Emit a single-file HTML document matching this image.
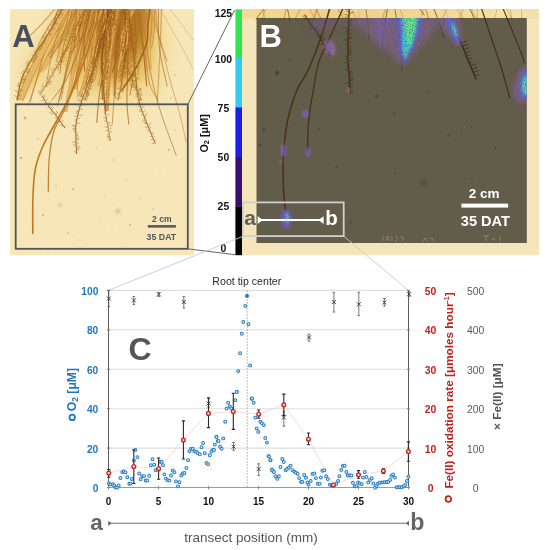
<!DOCTYPE html>
<html><head><meta charset="utf-8"><title>Figure</title>
<style>
html,body{margin:0;padding:0;background:#fff;}
body{width:548px;height:550px;overflow:hidden;}
svg{display:block;font-family:"Liberation Sans",Arial,Helvetica,sans-serif;}
</style></head><body>
<svg width="548" height="550" viewBox="0 0 548 550">
<defs>
<filter id="blur1" x="-50%" y="-50%" width="200%" height="200%"><feGaussianBlur stdDeviation="1"/></filter>
<filter id="blur2" x="-50%" y="-50%" width="200%" height="200%"><feGaussianBlur stdDeviation="2"/></filter>
<filter id="blur3" x="-50%" y="-50%" width="200%" height="200%"><feGaussianBlur stdDeviation="3"/></filter>
<filter id="blur4" x="-50%" y="-50%" width="200%" height="200%"><feGaussianBlur stdDeviation="4"/></filter>
<filter id="blur5" x="-50%" y="-50%" width="200%" height="200%"><feGaussianBlur stdDeviation="5"/></filter>
<filter id="blur6" x="-50%" y="-50%" width="200%" height="200%"><feGaussianBlur stdDeviation="6"/></filter>
<filter id="blur8" x="-50%" y="-50%" width="200%" height="200%"><feGaussianBlur stdDeviation="8"/></filter>
<filter id="speckle" x="0" y="0" width="100%" height="100%"><feTurbulence type="fractalNoise" baseFrequency="0.75" numOctaves="1" seed="4" result="n"/><feColorMatrix in="n" type="matrix" values="0 0 0 0 0  0 0 0 0 0  0 0 0 0 0  0 0 0 3 -0.6" result="a"/><feComposite in="SourceGraphic" in2="a" operator="in"/></filter>
<linearGradient id="stripG" x1="0" x2="1" y1="0" y2="0"><stop offset="0" stop-color="#f3da98"/><stop offset="0.25" stop-color="#f0d088"/><stop offset="0.55" stop-color="#f1d48e"/><stop offset="1" stop-color="#f5e2aa"/></linearGradient>
<clipPath id="clipA"><rect x="10" y="9" width="184" height="246.4"/></clipPath>
<clipPath id="clipOv"><rect x="256.5" y="18" width="270.3" height="225"/></clipPath>
<clipPath id="clipB"><rect x="242" y="9" width="297" height="246"/></clipPath>
</defs>
<rect width="548" height="550" fill="#fff"/>
<g clip-path="url(#clipA)">
<rect x="10" y="9" width="184" height="246.4" fill="#f7e6b7"/>
<path d="M56,5 L162,5 L170,40 L166,80 L156,100 L120,106 L80,104 L50,96 L28,85 L18,70 L30,50 L45,25 Z" fill="#f0d890" opacity="0.75" filter="url(#blur6)"/>
<path d="M62,5 L156,5 L156,40 L150,72 L135,88 L100,90 L75,80 L58,60 L52,35 Z" fill="#e2b858" opacity="0.7" filter="url(#blur5)"/>
<path d="M64,5 L152,5 L150,30 L140,52 L110,60 L80,55 L66,35 Z" fill="#d39c40" opacity="0.7" filter="url(#blur4)"/>
<path d="M86,5 L150,5 L148,35 L140,60 L128,80 L104,78 L92,55 L86,30 Z" fill="#c08a2e" opacity="0.7" filter="url(#blur4)"/>
<path d="M96,5 L146,5 L144,30 L136,50 L120,62 L104,55 L96,30 Z" fill="#a86c1c" opacity="0.7" filter="url(#blur3)"/>
<path d="M22,78 L36,52 L52,28 L60,12 L68,14 L62,34 L48,60 L34,84 L24,100 L18,96 Z" fill="#e3bc5a" opacity="0.65" filter="url(#blur2)"/>
<circle cx="25" cy="118" r="1.4" fill="#8c8a7a" opacity="0.55"/>
<circle cx="38" cy="139" r="0.8" fill="#8c8a7a" opacity="0.55"/>
<circle cx="21" cy="158" r="1.2" fill="#8c8a7a" opacity="0.55"/>
<circle cx="56" cy="186" r="0.7" fill="#8c8a7a" opacity="0.55"/>
<circle cx="68" cy="233" r="0.8" fill="#8c8a7a" opacity="0.55"/>
<circle cx="43" cy="215" r="1.0" fill="#8c8a7a" opacity="0.55"/>
<circle cx="113" cy="160" r="0.7" fill="#8c8a7a" opacity="0.55"/>
<circle cx="126" cy="180" r="0.6" fill="#8c8a7a" opacity="0.55"/>
<circle cx="153" cy="209" r="0.7" fill="#8c8a7a" opacity="0.55"/>
<circle cx="80" cy="240" r="0.6" fill="#8c8a7a" opacity="0.55"/>
<circle cx="130" cy="225" r="0.9" fill="#8c8a7a" opacity="0.55"/>
<circle cx="140" cy="198" r="0.6" fill="#8c8a7a" opacity="0.55"/>
<circle cx="100" cy="222" r="0.5" fill="#8c8a7a" opacity="0.55"/>
<circle cx="123" cy="248" r="0.5" fill="#8c8a7a" opacity="0.55"/>
<circle cx="169" cy="150" r="1.0" fill="#8c8a7a" opacity="0.55"/>
<circle cx="175" cy="130" r="0.6" fill="#8c8a7a" opacity="0.55"/>
<circle cx="171" cy="98" r="0.8" fill="#8c8a7a" opacity="0.55"/>
<circle cx="186" cy="110" r="0.6" fill="#8c8a7a" opacity="0.55"/>
<circle cx="175" cy="75" r="0.7" fill="#8c8a7a" opacity="0.55"/>
<circle cx="48" cy="250" r="0.6" fill="#8c8a7a" opacity="0.55"/>
<circle cx="73" cy="189" r="0.9" fill="#8c8a7a" opacity="0.55"/>
<circle cx="97" cy="147" r="0.6" fill="#8c8a7a" opacity="0.55"/>
<circle cx="105" cy="195" r="0.5" fill="#8c8a7a" opacity="0.55"/>
<circle cx="160" cy="175" r="0.6" fill="#8c8a7a" opacity="0.55"/>
<circle cx="112" cy="230" r="0.6" fill="#8c8a7a" opacity="0.55"/>
<circle cx="118" cy="211" r="2.6" fill="#b9b29a" opacity="0.6" filter="url(#blur1)"/>
<circle cx="60" cy="205" r="2.2" fill="#c2b898" opacity="0.6" filter="url(#blur1)"/>
<path d="M78.2,9.0 C76.6,17.1 72.3,41.5 68.8,57.8 C65.4,74.0 59.3,98.4 57.4,106.5" stroke="#aa601c" stroke-width="0.85" opacity="0.54" fill="none" stroke-linecap="round"/>
<path d="M77.6,12.1L76.1,11.7M76.4,18.2L74.7,17.4M75.2,24.3L74.2,24.0M74.1,30.4L75.8,30.1M72.9,36.6L75.0,36.3M71.7,42.7L69.4,41.9M70.5,48.8L69.4,48.0M69.4,54.9L70.8,54.8M68.1,61.0L66.3,60.4M66.6,67.1L64.8,66.0M65.2,73.2L63.7,72.2M63.8,79.2L65.2,79.5M62.4,85.3L60.4,84.7M60.9,91.4L62.7,91.3M59.5,97.4L60.7,97.5M58.1,103.5L56.0,102.3" stroke="#aa601c" stroke-width="0.5" opacity="0.3782137061384853" fill="none"/>
<path d="M119.8,9.0 C120.0,14.3 122.0,30.1 120.8,40.6 C119.6,51.1 113.8,66.9 112.4,72.2" stroke="#aa601c" stroke-width="1.21" opacity="0.89" fill="none" stroke-linecap="round"/>
<path d="M98.6,9.0 C95.9,11.7 86.6,19.7 82.5,25.0 C78.3,30.4 75.2,38.4 73.7,41.1" stroke="#b0661e" stroke-width="0.89" opacity="0.81" fill="none" stroke-linecap="round"/>
<path d="M99.9,9.0 C97.5,12.8 88.2,24.0 85.4,31.5 C82.5,39.0 83.2,50.3 82.7,54.1" stroke="#b86e22" stroke-width="0.77" opacity="0.61" fill="none" stroke-linecap="round"/>
<path d="M131.9,9.0 C130.2,13.5 123.3,26.9 121.6,35.8 C119.9,44.8 121.6,58.2 121.6,62.7" stroke="#c98a3a" stroke-width="3.6" opacity="0.43" fill="none"/>
<path d="M131.9,9.0 C130.2,13.5 123.3,26.9 121.6,35.8 C119.9,44.8 121.6,58.2 121.6,62.7" stroke="#e6bc62" stroke-width="2.0" opacity="0.85" fill="none"/>
<path d="M131.3,10.6L129.9,9.1M130.0,13.9L131.8,14.3M128.8,17.1L130.9,17.2M127.5,20.4L129.2,20.5M126.3,23.6L125.2,22.7M125.0,26.8L124.1,25.9M123.8,30.1L122.9,29.2M122.5,33.3L124.9,33.5M121.6,36.6L123.2,36.0M121.6,40.1L120.2,39.8M121.6,43.6L119.7,43.2M121.6,47.1L123.2,46.8M121.6,50.5L123.4,49.7M121.6,54.0L123.9,53.8M121.6,57.5L119.9,57.0M121.6,61.0L120.4,60.9" stroke="#c98a3a" stroke-width="0.5" opacity="0.3801848694461838" fill="none"/>
<path d="M75.6,9.0 C73.7,11.7 69.8,19.7 64.3,25.1 C58.8,30.5 46.3,38.5 42.7,41.2" stroke="#c98a3a" stroke-width="0.74" opacity="0.74" fill="none" stroke-linecap="round"/>
<path d="M74.8,10.2L73.6,9.2M73.1,12.6L72.4,11.4M71.4,15.0L70.0,13.6M69.7,17.3L68.9,15.8M68.1,19.7L66.7,18.7M66.4,22.1L65.2,21.1M64.7,24.5L65.9,24.7M62.6,26.4L62.2,24.4M60.2,28.1L62.2,29.6M57.9,29.9L58.8,30.8M55.6,31.6L55.3,30.0M53.2,33.4L54.8,35.0M50.9,35.1L52.3,35.8M48.6,36.9L48.2,35.7M46.2,38.6L45.8,36.0M43.9,40.3L42.7,38.2" stroke="#c98a3a" stroke-width="0.5" opacity="0.5195005035288017" fill="none"/>
<path d="M79.0,9.0 C78.4,13.2 78.4,25.8 75.4,34.2 C72.3,42.6 63.1,55.2 60.7,59.4" stroke="#b0661e" stroke-width="1.31" opacity="0.40" fill="none" stroke-linecap="round"/>
<path d="M78.7,10.7L77.5,9.9M78.3,14.1L76.1,12.8M77.8,17.5L79.0,17.5M77.3,20.8L75.3,19.7M76.8,24.2L78.4,24.0M76.3,27.6L78.1,27.2M75.9,31.0L74.7,30.3M75.3,34.3L76.5,34.8M73.6,37.3L75.3,37.4M71.9,40.2L74.0,41.4M70.1,43.2L71.9,43.5M68.4,46.1L67.4,45.1M66.7,49.1L65.8,47.8M65.0,52.0L64.0,50.6M63.3,55.0L64.9,55.5M61.5,57.9L60.1,56.9" stroke="#b0661e" stroke-width="0.5" opacity="0.2826870112790809" fill="none"/>
<path d="M77.2,9.0 C75.1,14.4 67.7,30.5 64.8,41.2 C61.9,52.0 60.7,68.1 59.9,73.5" stroke="#b86e22" stroke-width="1.11" opacity="0.66" fill="none" stroke-linecap="round"/>
<path d="M55.0,9.0 C52.7,11.6 46.3,19.3 41.3,24.5 C36.4,29.7 28.1,37.4 25.5,40.0" stroke="#b0661e" stroke-width="1.50" opacity="0.43" fill="none" stroke-linecap="round"/>
<path d="M158.4,9.0 C158.6,15.4 157.9,34.7 159.4,47.6 C160.9,60.5 165.9,79.8 167.2,86.2" stroke="#8f4c14" stroke-width="0.91" opacity="0.59" fill="none" stroke-linecap="round"/>
<path d="M125.9,9.0 C125.2,15.4 123.5,34.6 121.6,47.4 C119.6,60.2 115.5,79.4 114.3,85.8" stroke="#aa601c" stroke-width="0.80" opacity="0.69" fill="none" stroke-linecap="round"/>
<path d="M118.0,9.0 C118.7,12.7 122.2,23.7 122.4,31.1 C122.6,38.4 119.7,49.5 119.2,53.2" stroke="#c07a2a" stroke-width="0.90" opacity="0.56" fill="none" stroke-linecap="round"/>
<path d="M100.1,9.0 C97.4,14.5 88.0,30.9 84.3,41.9 C80.6,52.8 78.9,69.3 77.9,74.7" stroke="#a0581a" stroke-width="1.11" opacity="0.60" fill="none" stroke-linecap="round"/>
<path d="M99.1,11.0L100.2,11.2M97.2,14.9L99.4,15.4M95.3,18.9L97.2,19.3M93.4,22.8L92.3,21.8M91.5,26.7L93.5,27.1M89.6,30.7L91.5,31.2M87.8,34.6L89.3,35.3M85.9,38.6L88.1,38.8M84.1,42.6L86.1,42.1M83.3,46.8L82.1,46.5M82.5,51.1L83.6,51.3M81.6,55.4L83.0,55.1M80.8,59.7L83.1,60.1M80.0,64.0L78.5,63.0M79.1,68.3L77.9,67.8M78.3,72.6L77.0,72.3" stroke="#a0581a" stroke-width="0.5" opacity="0.4167540139492752" fill="none"/>
<path d="M86.2,9.0 C83.5,16.5 74.0,39.1 69.9,54.2 C65.8,69.2 62.8,91.8 61.4,99.3" stroke="#b0661e" stroke-width="1.28" opacity="0.40" fill="none" stroke-linecap="round"/>
<path d="M102.4,9.0 C100.8,12.9 94.4,24.4 93.0,32.1 C91.5,39.9 93.7,51.4 93.9,55.3" stroke="#c07a2a" stroke-width="3.6" opacity="0.42" fill="none"/>
<path d="M102.4,9.0 C100.8,12.9 94.4,24.4 93.0,32.1 C91.5,39.9 93.7,51.4 93.9,55.3" stroke="#e6bc62" stroke-width="2.0" opacity="0.85" fill="none"/>
<path d="M103.2,9.0 C102.8,15.0 103.1,33.1 100.7,45.1 C98.3,57.1 90.8,75.2 88.8,81.2" stroke="#b86e22" stroke-width="1.48" opacity="0.79" fill="none" stroke-linecap="round"/>
<path d="M60.2,9.0 C56.9,14.4 45.0,30.7 40.2,41.6 C35.4,52.5 32.9,68.8 31.4,74.2" stroke="#b0661e" stroke-width="1.18" opacity="0.54" fill="none" stroke-linecap="round"/>
<path d="M59.0,10.9L57.6,9.7M56.7,14.8L58.3,15.7M54.3,18.6L56.6,19.0M52.0,22.4L53.2,22.6M49.6,26.3L51.4,26.6M47.3,30.1L48.5,30.6M44.9,33.9L44.0,33.1M42.6,37.8L43.6,38.3M40.2,41.6L41.4,41.8M39.0,45.9L37.6,44.7M37.9,50.3L36.5,49.7M36.7,54.6L35.6,54.2M35.5,59.0L34.1,58.4M34.4,63.3L32.7,62.9M33.2,67.7L31.9,66.9M32.0,72.0L30.8,71.6" stroke="#b0661e" stroke-width="0.5" opacity="0.3800260023685973" fill="none"/>
<path d="M78.4,9.0 C77.8,17.6 76.9,43.3 74.8,60.5 C72.6,77.6 66.9,103.4 65.4,112.0" stroke="#b86e22" stroke-width="3.6" opacity="0.52" fill="none"/>
<path d="M78.4,9.0 C77.8,17.6 76.9,43.3 74.8,60.5 C72.6,77.6 66.9,103.4 65.4,112.0" stroke="#e6bc62" stroke-width="2.0" opacity="0.85" fill="none"/>
<path d="M104.0,9.0 C104.7,14.4 108.6,30.7 108.3,41.5 C107.9,52.4 102.9,68.7 101.8,74.1" stroke="#c98a3a" stroke-width="0.72" opacity="0.73" fill="none" stroke-linecap="round"/>
<path d="M119.2,9.0 C118.1,15.1 115.5,33.3 112.8,45.5 C110.1,57.6 104.6,75.9 103.0,82.0" stroke="#c98a3a" stroke-width="1.49" opacity="0.79" fill="none" stroke-linecap="round"/>
<path d="M85.5,9.0 C84.0,16.6 77.4,39.5 76.2,54.7 C75.0,69.9 77.9,92.7 78.2,100.4" stroke="#c98a3a" stroke-width="1.18" opacity="0.36" fill="none" stroke-linecap="round"/>
<path d="M84.9,11.8L83.0,10.5M83.8,17.5L85.4,17.8M82.6,23.1L84.2,23.2M81.5,28.8L79.9,28.4M80.3,34.4L81.6,34.2M79.2,40.1L80.4,40.1M78.0,45.8L76.6,45.1M76.9,51.4L75.8,50.5M76.3,57.1L78.7,57.0M76.6,62.9L75.0,62.7M76.8,68.6L78.6,68.1M77.1,74.4L76.0,74.2M77.3,80.2L76.2,80.1M77.6,85.9L79.5,85.5M77.8,91.7L79.9,90.9M78.1,97.5L75.5,96.8" stroke="#c98a3a" stroke-width="0.5" opacity="0.25124138582097033" fill="none"/>
<path d="M96.4,9.0 C95.8,16.3 95.6,38.1 92.9,52.6 C90.1,67.1 82.0,88.9 79.9,96.2" stroke="#c07a2a" stroke-width="3.6" opacity="0.62" fill="none"/>
<path d="M96.4,9.0 C95.8,16.3 95.6,38.1 92.9,52.6 C90.1,67.1 82.0,88.9 79.9,96.2" stroke="#e6bc62" stroke-width="2.0" opacity="0.85" fill="none"/>
<path d="M96.1,11.8L97.3,11.7M95.7,17.3L97.9,17.0M95.2,22.9L97.0,22.9M94.8,28.4L96.7,28.3M94.4,34.0L93.0,33.6M93.9,39.6L95.2,39.4M93.5,45.1L95.5,44.3M93.0,50.7L95.3,50.3M91.8,56.1L90.0,55.3M90.2,61.4L89.1,61.0M88.6,66.8L90.9,66.8M87.0,72.1L88.8,72.3M85.4,77.5L83.6,76.6M83.9,82.8L81.9,82.2M82.3,88.1L81.3,87.4M80.7,93.5L78.8,92.4" stroke="#c07a2a" stroke-width="0.5" opacity="0.5398783541567046" fill="none"/>
<path d="M141.7,9.0 C142.4,14.2 145.1,29.9 145.7,40.4 C146.4,50.9 145.8,66.6 145.8,71.8" stroke="#c98a3a" stroke-width="0.86" opacity="0.82" fill="none" stroke-linecap="round"/>
<path d="M141.9,11.0L140.2,11.0M142.4,14.9L144.8,13.9M142.9,18.8L145.1,17.7M143.5,22.7L144.8,22.2M144.0,26.6L145.1,25.9M144.5,30.5L146.7,29.9M145.0,34.4L146.2,33.6M145.5,38.3L144.4,38.3M145.7,42.3L144.5,41.7M145.8,46.2L146.8,45.7M145.8,50.1L148.2,49.3M145.8,54.1L144.2,53.6M145.8,58.0L144.2,58.0M145.8,62.0L147.0,61.9M145.8,65.9L144.4,65.8M145.8,69.8L147.4,69.7" stroke="#c98a3a" stroke-width="0.5" opacity="0.5750398444062229" fill="none"/>
<path d="M88.7,9.0 C87.7,12.9 83.7,24.5 83.0,32.2 C82.3,39.9 84.1,51.6 84.3,55.4" stroke="#a0581a" stroke-width="0.81" opacity="0.68" fill="none" stroke-linecap="round"/>
<path d="M129.9,9.0 C128.6,12.6 123.6,23.4 122.1,30.6 C120.7,37.8 121.4,48.6 121.2,52.2" stroke="#b86e22" stroke-width="1.03" opacity="0.71" fill="none" stroke-linecap="round"/>
<path d="M103.5,9.0 C102.8,16.6 101.8,39.5 98.9,54.8 C96.1,70.1 88.5,93.0 86.4,100.6" stroke="#aa601c" stroke-width="0.92" opacity="0.52" fill="none" stroke-linecap="round"/>
<path d="M93.3,9.0 C91.2,11.7 83.0,19.8 80.7,25.2 C78.4,30.6 79.7,38.7 79.5,41.4" stroke="#c07a2a" stroke-width="1.36" opacity="0.66" fill="none" stroke-linecap="round"/>
<path d="M152.9,9.0 C153.0,12.3 153.7,22.1 153.2,28.7 C152.8,35.2 150.7,45.0 150.2,48.3" stroke="#b0661e" stroke-width="3.6" opacity="0.50" fill="none"/>
<path d="M152.9,9.0 C153.0,12.3 153.7,22.1 153.2,28.7 C152.8,35.2 150.7,45.0 150.2,48.3" stroke="#e6bc62" stroke-width="2.0" opacity="0.85" fill="none"/>
<path d="M111.7,9.0 C109.8,14.4 103.3,30.7 100.5,41.5 C97.7,52.3 95.7,68.6 94.8,74.0" stroke="#b86e22" stroke-width="0.98" opacity="0.88" fill="none" stroke-linecap="round"/>
<path d="M113.4,9.0 C112.6,12.5 109.0,23.2 108.5,30.2 C107.9,37.3 109.9,47.9 110.2,51.5" stroke="#b86e22" stroke-width="1.03" opacity="0.66" fill="none" stroke-linecap="round"/>
<path d="M113.1,10.3L115.2,10.3M112.5,12.9L110.6,12.0M111.9,15.6L114.2,15.0M111.3,18.2L109.1,17.2M110.7,20.8L112.3,20.6M110.1,23.4L108.2,22.6M109.5,26.0L108.3,25.2M108.9,28.7L107.4,27.4M108.6,31.3L106.9,31.4M108.8,34.0L107.2,33.9M109.0,36.7L110.8,36.0M109.2,39.4L110.8,38.7M109.4,42.1L108.3,42.1M109.6,44.7L111.4,43.9M109.8,47.4L108.3,47.2M110.0,50.1L112.3,48.7" stroke="#b86e22" stroke-width="0.5" opacity="0.45863221374433316" fill="none"/>
<path d="M112.3,9.0 C112.2,14.9 113.2,32.5 111.7,44.3 C110.2,56.1 104.8,73.7 103.4,79.6" stroke="#a0581a" stroke-width="3.6" opacity="0.61" fill="none"/>
<path d="M112.3,9.0 C112.2,14.9 113.2,32.5 111.7,44.3 C110.2,56.1 104.8,73.7 103.4,79.6" stroke="#e6bc62" stroke-width="2.0" opacity="0.85" fill="none"/>
<path d="M108.0,9.0 C107.0,16.5 102.7,39.0 101.8,54.0 C100.8,68.9 102.3,91.4 102.4,98.9" stroke="#b0661e" stroke-width="1.42" opacity="0.89" fill="none" stroke-linecap="round"/>
<path d="M85.6,9.0 C83.2,16.7 75.9,39.9 71.4,55.3 C67.0,70.7 60.8,93.9 58.7,101.6" stroke="#8f4c14" stroke-width="1.14" opacity="0.46" fill="none" stroke-linecap="round"/>
<path d="M84.7,11.9L85.9,11.9M82.9,17.6L81.4,16.2M81.2,23.4L83.6,23.3M79.4,29.2L78.4,28.4M77.7,34.9L80.0,35.4M75.9,40.7L77.6,41.0M74.1,46.5L75.6,46.4M72.4,52.2L71.3,51.4M70.7,58.0L69.6,57.3M69.1,63.8L67.6,63.4M67.5,69.6L66.2,68.8M65.9,75.5L63.7,74.6M64.3,81.3L66.9,80.8M62.7,87.1L64.6,86.9M61.1,92.9L63.3,92.5M59.5,98.7L58.0,98.1" stroke="#8f4c14" stroke-width="0.5" opacity="0.32207190227870114" fill="none"/>
<path d="M161.6,9.0 C161.3,16.8 160.5,40.2 159.8,55.7 C159.0,71.3 157.6,94.7 157.2,102.5" stroke="#c07a2a" stroke-width="1.25" opacity="0.54" fill="none" stroke-linecap="round"/>
<path d="M71.1,9.0 C69.0,14.2 63.3,29.9 58.2,40.3 C53.2,50.8 43.7,66.5 40.8,71.7" stroke="#c98a3a" stroke-width="3.6" opacity="0.45" fill="none"/>
<path d="M71.1,9.0 C69.0,14.2 63.3,29.9 58.2,40.3 C53.2,50.8 43.7,66.5 40.8,71.7" stroke="#e6bc62" stroke-width="2.0" opacity="0.85" fill="none"/>
<path d="M105.5,9.0 C105.4,15.4 105.1,34.7 104.5,47.5 C104.0,60.3 102.5,79.6 102.1,86.0" stroke="#c98a3a" stroke-width="0.95" opacity="0.88" fill="none" stroke-linecap="round"/>
<path d="M105.2,9.0 C104.1,14.9 100.4,32.4 98.5,44.1 C96.6,55.8 94.7,73.4 94.0,79.2" stroke="#b0661e" stroke-width="3.6" opacity="0.59" fill="none"/>
<path d="M105.2,9.0 C104.1,14.9 100.4,32.4 98.5,44.1 C96.6,55.8 94.7,73.4 94.0,79.2" stroke="#e6bc62" stroke-width="2.0" opacity="0.85" fill="none"/>
<path d="M123.5,9.0 C123.8,14.7 124.7,31.7 125.0,43.1 C125.2,54.4 124.9,71.5 124.9,77.2" stroke="#b86e22" stroke-width="1.09" opacity="0.57" fill="none" stroke-linecap="round"/>
<path d="M151.0,9.0 C150.6,14.0 148.8,29.0 148.6,39.0 C148.5,49.1 149.8,64.1 150.1,69.1" stroke="#c98a3a" stroke-width="3.6" opacity="0.45" fill="none"/>
<path d="M151.0,9.0 C150.6,14.0 148.8,29.0 148.6,39.0 C148.5,49.1 149.8,64.1 150.1,69.1" stroke="#e6bc62" stroke-width="2.0" opacity="0.85" fill="none"/>
<path d="M87.7,9.0 C87.8,11.8 90.0,20.0 88.3,25.6 C86.6,31.1 79.2,39.4 77.4,42.1" stroke="#c07a2a" stroke-width="0.73" opacity="0.44" fill="none" stroke-linecap="round"/>
<path d="M87.8,10.1L89.9,9.2M87.8,12.4L85.4,12.2M87.9,14.7L89.3,14.6M88.0,17.0L86.2,16.6M88.1,19.2L90.1,18.5M88.1,21.5L89.5,20.8M88.2,23.8L87.1,23.3M88.0,26.0L90.2,26.5M86.8,27.9L88.2,28.0M85.5,29.8L84.0,28.4M84.3,31.7L83.3,30.7M83.0,33.6L81.1,32.0M81.8,35.5L83.3,36.0M80.5,37.4L79.9,36.3M79.3,39.3L78.2,38.5M78.0,41.2L79.8,41.4" stroke="#c07a2a" stroke-width="0.5" opacity="0.30863261046493917" fill="none"/>
<path d="M87.8,9.0 C85.3,12.2 77.9,21.9 72.9,28.3 C67.9,34.7 60.4,44.3 57.8,47.6" stroke="#c07a2a" stroke-width="0.90" opacity="0.63" fill="none" stroke-linecap="round"/>
<path d="M86.8,10.2L86.0,9.4M85.0,12.6L87.2,13.3M83.1,15.0L85.3,16.3M81.3,17.5L80.4,16.1M79.4,19.9L82.0,20.4M77.5,22.3L76.9,20.9M75.7,24.7L74.6,23.4M73.8,27.1L72.5,25.0M71.9,29.5L74.2,30.3M70.1,31.9L68.9,31.0M68.2,34.3L69.6,34.7M66.3,36.7L67.2,37.4M64.4,39.1L66.9,39.7M62.5,41.5L61.8,40.6M60.7,43.9L59.8,42.7M58.8,46.4L61.0,46.9" stroke="#c07a2a" stroke-width="0.5" opacity="0.44138291708006355" fill="none"/>
<path d="M138.5,9.0 C139.3,15.4 141.7,34.5 143.1,47.3 C144.5,60.1 146.1,79.2 146.7,85.6" stroke="#aa601c" stroke-width="1.39" opacity="0.76" fill="none" stroke-linecap="round"/>
<path d="M70.9,9.0 C69.8,13.0 68.4,24.9 64.7,32.9 C61.1,40.8 51.6,52.8 48.9,56.8" stroke="#a0581a" stroke-width="3.6" opacity="0.57" fill="none"/>
<path d="M70.9,9.0 C69.8,13.0 68.4,24.9 64.7,32.9 C61.1,40.8 51.6,52.8 48.9,56.8" stroke="#e6bc62" stroke-width="2.0" opacity="0.85" fill="none"/>
<path d="M76.9,9.0 C75.7,12.8 70.7,24.0 69.8,31.5 C68.9,39.0 71.2,50.3 71.5,54.0" stroke="#c98a3a" stroke-width="0.77" opacity="0.39" fill="none" stroke-linecap="round"/>
<path d="M113.4,9.0 C111.1,14.0 103.1,29.0 99.8,39.0 C96.4,49.0 94.4,64.0 93.3,69.0" stroke="#8f4c14" stroke-width="3.6" opacity="0.71" fill="none"/>
<path d="M113.4,9.0 C111.1,14.0 103.1,29.0 99.8,39.0 C96.4,49.0 94.4,64.0 93.3,69.0" stroke="#e6bc62" stroke-width="2.0" opacity="0.85" fill="none"/>
<path d="M96.9,9.0 C95.4,16.1 89.8,37.5 88.0,51.8 C86.3,66.1 86.8,87.5 86.6,94.6" stroke="#b0661e" stroke-width="0.76" opacity="0.51" fill="none" stroke-linecap="round"/>
<path d="M134.6,9.0 C132.8,12.7 125.9,23.9 123.5,31.3 C121.2,38.8 121.1,49.9 120.6,53.6" stroke="#b86e22" stroke-width="3.6" opacity="0.43" fill="none"/>
<path d="M134.6,9.0 C132.8,12.7 125.9,23.9 123.5,31.3 C121.2,38.8 121.1,49.9 120.6,53.6" stroke="#e6bc62" stroke-width="2.0" opacity="0.85" fill="none"/>
<path d="M93.3,9.0 C91.3,14.4 85.3,30.4 81.5,41.1 C77.8,51.8 72.4,67.9 70.6,73.3" stroke="#c98a3a" stroke-width="1.11" opacity="0.43" fill="none" stroke-linecap="round"/>
<path d="M126.8,9.0 C127.0,14.0 129.1,29.1 127.7,39.2 C126.3,49.2 120.1,64.3 118.5,69.4" stroke="#b0661e" stroke-width="3.6" opacity="0.56" fill="none"/>
<path d="M126.8,9.0 C127.0,14.0 129.1,29.1 127.7,39.2 C126.3,49.2 120.1,64.3 118.5,69.4" stroke="#e6bc62" stroke-width="2.0" opacity="0.85" fill="none"/>
<path d="M114.4,9.0 C114.7,16.4 116.2,38.6 116.3,53.4 C116.5,68.1 115.4,90.3 115.2,97.7" stroke="#aa601c" stroke-width="1.02" opacity="0.58" fill="none" stroke-linecap="round"/>
<path d="M114.5,11.8L112.2,11.4M114.8,17.3L112.6,17.1M115.0,22.9L116.3,22.4M115.3,28.4L116.9,27.7M115.5,33.9L117.7,32.8M115.7,39.5L117.5,39.3M116.0,45.0L114.9,45.0M116.2,50.6L118.7,49.7M116.3,56.1L114.0,55.2M116.1,61.7L113.7,60.8M116.0,67.2L114.6,67.0M115.8,72.8L117.3,72.2M115.7,78.3L114.6,78.2M115.5,83.9L114.0,83.4M115.4,89.4L114.2,89.0M115.2,94.9L113.3,94.2" stroke="#aa601c" stroke-width="0.5" opacity="0.4034653957277598" fill="none"/>
<path d="M111.6,9.0 C111.1,12.3 111.1,22.1 108.2,28.7 C105.3,35.2 96.6,45.1 94.3,48.4" stroke="#a0581a" stroke-width="0.81" opacity="0.85" fill="none" stroke-linecap="round"/>
<path d="M89.0,9.0 C87.2,16.2 80.1,37.7 78.3,52.0 C76.4,66.4 77.9,87.9 77.8,95.1" stroke="#c98a3a" stroke-width="0.97" opacity="0.39" fill="none" stroke-linecap="round"/>
<path d="M116.8,9.0 C115.3,13.2 109.8,25.9 108.1,34.3 C106.3,42.8 106.5,55.4 106.1,59.7" stroke="#c07a2a" stroke-width="1.02" opacity="0.71" fill="none" stroke-linecap="round"/>
<path d="M105.2,9.0 C105.7,15.4 109.0,34.7 108.0,47.6 C107.0,60.5 100.7,79.8 99.3,86.2" stroke="#aa601c" stroke-width="3.6" opacity="0.43" fill="none"/>
<path d="M105.2,9.0 C105.7,15.4 109.0,34.7 108.0,47.6 C107.0,60.5 100.7,79.8 99.3,86.2" stroke="#e6bc62" stroke-width="2.0" opacity="0.85" fill="none"/>
<path d="M66.0,9.0 C63.9,15.5 56.6,34.9 53.3,47.8 C50.0,60.8 47.2,80.2 46.0,86.7" stroke="#aa601c" stroke-width="0.97" opacity="0.55" fill="none" stroke-linecap="round"/>
<path d="M108.7,9.0 C107.6,17.6 102.5,43.2 102.0,60.3 C101.5,77.4 104.9,103.1 105.5,111.6" stroke="#8f4c14" stroke-width="1.18" opacity="0.88" fill="none" stroke-linecap="round"/>
<path d="M58.1,9.0 C55.6,16.7 48.0,39.9 43.4,55.3 C38.7,70.7 32.5,93.9 30.3,101.6" stroke="#a0581a" stroke-width="1.10" opacity="0.56" fill="none" stroke-linecap="round"/>
<path d="M155.3,9.0 C155.8,13.3 156.6,26.2 158.5,34.8 C160.5,43.4 165.6,56.3 167.0,60.6" stroke="#a0581a" stroke-width="1.27" opacity="0.36" fill="none" stroke-linecap="round"/>
<path d="M92.1,9.0 C90.5,15.7 85.4,35.8 82.6,49.1 C79.8,62.5 76.7,82.6 75.5,89.3" stroke="#b86e22" stroke-width="3.6" opacity="0.58" fill="none"/>
<path d="M92.1,9.0 C90.5,15.7 85.4,35.8 82.6,49.1 C79.8,62.5 76.7,82.6 75.5,89.3" stroke="#e6bc62" stroke-width="2.0" opacity="0.85" fill="none"/>
<path d="M90.2,9.0 C89.2,14.2 85.3,29.6 84.4,40.0 C83.4,50.3 84.6,65.8 84.6,70.9" stroke="#8f4c14" stroke-width="1.12" opacity="0.64" fill="none" stroke-linecap="round"/>
<path d="M124.4,9.0 C123.4,12.3 119.2,22.1 118.4,28.6 C117.6,35.2 119.4,45.0 119.5,48.3" stroke="#aa601c" stroke-width="0.74" opacity="0.56" fill="none" stroke-linecap="round"/>
<path d="M124.0,10.2L122.7,9.0M123.3,12.6L124.9,12.6M122.6,15.0L125.0,14.8M121.8,17.4L120.1,15.9M121.1,19.8L122.7,20.2M120.4,22.2L118.8,21.3M119.6,24.6L121.7,24.8M118.9,27.0L120.6,26.9M118.5,29.5L120.3,28.9M118.6,32.0L120.7,30.9M118.7,34.5L121.1,33.2M118.9,37.0L116.4,36.4M119.0,39.5L116.8,39.4M119.2,42.0L120.8,41.2M119.3,44.5L117.9,44.3M119.5,47.0L118.2,46.5" stroke="#aa601c" stroke-width="0.5" opacity="0.3933227562517766" fill="none"/>
<path d="M77.7,9.0 C76.4,14.1 73.1,29.3 69.8,39.5 C66.4,49.7 59.6,64.9 57.5,70.0" stroke="#b86e22" stroke-width="0.99" opacity="0.56" fill="none" stroke-linecap="round"/>
<path d="M108.1,9.0 C108.0,12.3 108.2,22.1 107.5,28.6 C106.8,35.1 104.4,44.9 103.8,48.2" stroke="#a0581a" stroke-width="0.99" opacity="0.74" fill="none" stroke-linecap="round"/>
<path d="M90.9,9.0 C90.1,12.7 89.4,23.9 85.9,31.3 C82.4,38.8 72.7,50.0 70.0,53.7" stroke="#b86e22" stroke-width="1.10" opacity="0.72" fill="none" stroke-linecap="round"/>
<path d="M90.6,10.5L91.8,10.2M89.9,13.6L87.8,12.5M89.2,16.7L87.4,15.7M88.5,19.7L90.2,19.6M87.8,22.8L89.0,22.6M87.1,25.9L89.4,25.5M86.4,28.9L84.8,28.2M85.5,31.9L84.5,31.2M83.7,34.5L82.5,32.7M81.8,37.0L80.6,35.7M80.0,39.6L78.8,37.2M78.2,42.1L79.9,43.3M76.4,44.7L78.3,45.1M74.6,47.3L76.8,48.0M72.7,49.8L71.2,48.3M70.9,52.4L69.7,50.3" stroke="#b86e22" stroke-width="0.5" opacity="0.5014021639143956" fill="none"/>
<path d="M129.2,9.0 C128.3,14.1 125.9,29.5 124.0,39.8 C122.2,50.1 118.9,65.5 117.9,70.6" stroke="#b0661e" stroke-width="3.6" opacity="0.69" fill="none"/>
<path d="M129.2,9.0 C128.3,14.1 125.9,29.5 124.0,39.8 C122.2,50.1 118.9,65.5 117.9,70.6" stroke="#e6bc62" stroke-width="2.0" opacity="0.85" fill="none"/>
<path d="M128.9,10.9L127.5,10.5M128.2,14.8L127.2,14.1M127.6,18.7L129.6,18.8M126.9,22.5L128.2,22.3M126.3,26.4L128.6,26.6M125.6,30.2L126.9,30.1M125.0,34.1L122.9,33.1M124.3,38.0L126.0,37.6M123.6,41.8L121.6,41.1M122.9,45.7L124.9,45.7M122.1,49.5L120.7,49.1M121.3,53.3L119.6,52.1M120.6,57.2L119.4,56.9M119.8,61.0L118.8,60.6M119.1,64.9L120.5,64.6M118.3,68.7L116.6,67.4" stroke="#b0661e" stroke-width="0.5" opacity="0.6056081860464694" fill="none"/>
<path d="M117.7,9.0 C116.5,17.5 112.2,42.9 110.4,59.8 C108.6,76.8 107.5,102.2 106.9,110.7" stroke="#c07a2a" stroke-width="3.6" opacity="0.67" fill="none"/>
<path d="M117.7,9.0 C116.5,17.5 112.2,42.9 110.4,59.8 C108.6,76.8 107.5,102.2 106.9,110.7" stroke="#e6bc62" stroke-width="2.0" opacity="0.85" fill="none"/>
<path d="M117.2,12.2L115.9,11.5M116.3,18.5L118.8,18.0M115.4,24.8L116.6,24.6M114.5,31.2L112.6,30.1M113.6,37.5L115.1,37.4M112.7,43.8L111.1,42.9M111.8,50.1L112.9,49.8M110.9,56.5L112.2,56.4M110.2,62.8L108.0,62.3M109.7,69.2L110.9,69.1M109.3,75.6L110.4,75.4M108.9,82.0L106.8,81.7M108.4,88.3L107.1,87.7M108.0,94.7L110.1,94.1M107.6,101.1L105.7,100.5M107.2,107.5L108.6,107.0" stroke="#c07a2a" stroke-width="0.5" opacity="0.5847950890920336" fill="none"/>
<path d="M123.2,9.0 C122.0,16.2 117.3,37.8 115.8,52.2 C114.3,66.6 114.4,88.2 114.1,95.4" stroke="#a0581a" stroke-width="1.35" opacity="0.56" fill="none" stroke-linecap="round"/>
<path d="M76.1,9.0 C73.9,13.3 65.9,26.3 62.7,35.0 C59.5,43.6 57.8,56.6 56.9,60.9" stroke="#aa601c" stroke-width="1.22" opacity="0.39" fill="none" stroke-linecap="round"/>
<path d="M75.3,10.6L73.4,9.2M73.7,13.7L76.0,14.0M72.1,16.8L70.6,14.8M70.5,19.9L72.2,20.7M68.9,23.0L70.5,23.6M67.3,26.1L69.1,26.3M65.7,29.2L66.9,29.7M64.1,32.3L63.3,31.2M62.6,35.4L61.1,35.0M61.8,38.8L63.9,39.0M61.1,42.2L62.2,42.4M60.3,45.6L62.5,46.0M59.5,49.0L62.1,48.6M58.8,52.4L57.7,51.7M58.0,55.8L60.1,55.6M57.2,59.2L56.1,58.9" stroke="#aa601c" stroke-width="0.5" opacity="0.2721647436124425" fill="none"/>
<path d="M139.1,9.0 C139.5,14.5 141.9,31.0 141.7,42.0 C141.5,52.9 138.4,69.4 137.7,74.9" stroke="#c07a2a" stroke-width="0.76" opacity="0.86" fill="none" stroke-linecap="round"/>
<path d="M126.7,9.0 C127.0,14.6 129.4,31.2 128.5,42.3 C127.5,53.4 122.3,70.1 121.0,75.6" stroke="#b86e22" stroke-width="0.88" opacity="0.79" fill="none" stroke-linecap="round"/>
<path d="M126.8,11.1L125.3,11.0M127.0,15.3L128.5,14.7M127.3,19.5L129.7,18.9M127.5,23.7L126.3,23.4M127.7,28.0L129.2,27.3M127.9,32.2L125.6,32.1M128.1,36.4L127.1,35.9M128.4,40.6L127.3,40.2M127.9,44.7L126.7,43.9M127.0,48.9L128.5,48.6M126.1,53.0L124.2,51.9M125.2,57.1L126.4,57.2M124.3,61.2L122.4,60.4M123.3,65.3L121.1,64.8M122.4,69.4L121.2,68.8M121.5,73.6L123.2,73.5" stroke="#b86e22" stroke-width="0.5" opacity="0.5532731736568991" fill="none"/>
<path d="M66.0,9.0 C64.0,12.5 58.0,22.8 54.0,30.0 C50.0,37.2 46.0,44.3 42.0,52.0 C38.0,59.7 33.7,68.0 30.0,76.0 C26.3,84.0 21.7,96.0 20.0,100.0" stroke="#c07828" stroke-width="7" opacity="0.55" fill="none"/>
<path d="M66.0,9.0 C64.0,12.5 58.0,22.8 54.0,30.0 C50.0,37.2 46.0,44.3 42.0,52.0 C38.0,59.7 33.7,68.0 30.0,76.0 C26.3,84.0 21.7,96.0 20.0,100.0" stroke="#e6c070" stroke-width="5" opacity="0.8" fill="none"/>
<path d="M62.0,9.0 C60.0,12.7 54.8,23.0 50.0,31.0 C45.2,39.0 37.7,49.2 33.0,57.0 C28.3,64.8 24.7,70.8 22.0,78.0 C19.3,85.2 17.8,96.3 17.0,100.0" stroke="#b46c1c" stroke-width="1.3" opacity="0.95" fill="none" stroke-linecap="round"/>
<path d="M61.6,9.7L64.5,10.7M60.8,11.2L59.0,9.0M60.0,12.7L63.4,13.5M59.1,14.2L62.8,15.1M58.3,15.7L55.2,13.4M57.5,17.2L61.2,17.6M56.7,18.7L54.7,17.4M55.9,20.2L54.1,18.2M55.1,21.7L57.1,22.2M54.2,23.2L58.5,24.2M53.4,24.7L55.8,25.0M52.6,26.2L50.7,24.0M51.8,27.7L55.3,28.6M51.0,29.2L53.0,30.0M50.2,30.7L47.4,27.5M49.2,32.2L47.6,29.6M48.3,33.6L51.7,35.1M47.4,35.0L45.2,32.3M46.4,36.4L45.1,34.7M45.5,37.9L43.1,35.4M44.6,39.3L42.7,36.3M43.6,40.7L45.9,41.4M42.7,42.2L45.6,43.2M41.8,43.6L43.9,44.3M40.8,45.0L42.7,45.9M39.9,46.4L42.8,47.5M39.0,47.9L41.5,49.0M38.0,49.3L40.3,50.7M37.1,50.7L35.2,48.8M36.2,52.2L35.0,50.6M35.2,53.6L33.6,51.3M34.3,55.0L37.9,56.9M33.4,56.4L31.7,54.1M32.5,57.9L36.2,58.9M31.7,59.4L34.0,60.1M30.9,60.9L34.9,61.5M30.1,62.5L27.6,60.5M29.3,64.0L26.2,61.8M28.6,65.5L26.5,63.3M27.8,67.0L25.8,65.3M27.0,68.5L29.9,69.0M26.2,70.0L29.9,71.6M25.4,71.5L29.0,73.0M24.6,73.0L22.5,70.1M23.8,74.6L21.0,72.8M23.0,76.1L25.5,76.3M22.2,77.6L25.8,79.2M21.7,79.2L24.9,79.7M21.3,80.9L25.1,81.1M21.0,82.5L24.0,83.0M20.6,84.2L17.6,83.3M20.2,85.9L17.4,85.0M19.8,87.5L17.3,85.6M19.5,89.2L21.3,89.2M19.1,90.8L22.6,90.6M18.7,92.5L15.0,90.3M18.3,94.2L20.1,94.5M17.9,95.8L20.6,95.8M17.6,97.5L14.0,95.4M17.2,99.2L19.9,99.1" stroke="#85521a" stroke-width="0.55" opacity="0.75" fill="none"/>
<path d="M70.0,9.0 C68.0,13.3 62.2,26.5 58.0,35.0 C53.8,43.5 48.8,51.7 45.0,60.0 C41.2,68.3 37.8,77.5 35.0,85.0 C32.2,92.5 29.2,101.7 28.0,105.0" stroke="#c08030" stroke-width="0.9" opacity="0.6" fill="none" stroke-linecap="round"/>
<path d="M100.0,9.0 C98.0,15.8 92.7,36.2 88.0,50.0 C83.3,63.8 77.3,80.0 72.0,92.0 C66.7,104.0 60.8,113.0 56.0,122.0 C51.2,131.0 46.4,138.3 43.0,146.0 C39.6,153.7 37.2,159.8 35.5,168.0 C33.8,176.2 33.5,184.1 33.0,195.0 C32.5,205.9 32.8,227.1 32.8,233.5" stroke="#b8741e" stroke-width="1.6" opacity="0.95" fill="none" stroke-linecap="round"/>
<path d="M96.0,9.0 C94.2,15.8 89.0,36.5 85.0,50.0 C81.0,63.5 75.8,79.2 72.0,90.0 C68.2,100.8 65.0,108.1 62.0,115.0 C59.0,121.9 55.9,124.2 53.8,131.5 C51.7,138.8 50.1,148.9 49.2,158.9 C48.3,168.9 48.4,186.2 48.3,191.7" stroke="#bb7a28" stroke-width="1.3" opacity="0.9" fill="none" stroke-linecap="round"/>
<path d="M88.0,9.0 C86.7,15.0 83.7,33.2 80.0,45.0 C76.3,56.8 70.7,70.8 66.0,80.0 C61.3,89.2 54.3,96.7 52.0,100.0" stroke="#a86a22" stroke-width="0.9" opacity="0.8" fill="none" stroke-linecap="round"/>
<path d="M42.0,96.0 C43.3,98.0 47.3,104.3 50.0,108.0 C52.7,111.7 55.5,114.7 58.0,118.0 C60.5,121.3 63.6,126.2 64.7,127.8" stroke="#9a5e1e" stroke-width="1.0" opacity="0.9" fill="none" stroke-linecap="round"/>
<path d="M42.5,96.7L44.6,94.3M43.5,98.2L45.3,95.8M44.5,99.7L41.0,101.4M45.5,101.2L47.8,99.3M46.4,102.7L43.9,103.5M47.4,104.1L49.9,101.9M48.4,105.6L50.9,102.3M49.4,107.1L47.6,107.6M50.4,108.5L52.7,105.9M51.5,109.9L53.7,107.4M52.6,111.3L49.5,112.8M53.8,112.7L51.0,114.8M54.9,114.1L57.0,110.9M56.0,115.5L58.0,112.0M57.1,116.9L54.8,118.0M58.2,118.3L60.5,115.8M59.2,119.7L57.3,120.3M60.2,121.2L56.4,122.8M61.2,122.7L63.4,120.2M62.2,124.1L59.7,125.4M63.2,125.6L61.0,126.2M64.2,127.1L65.8,125.8" stroke="#85521a" stroke-width="0.55" opacity="0.75" fill="none"/>
<path d="M104.0,9.0 C102.7,17.5 99.7,44.8 96.0,60.0 C92.3,75.2 85.3,89.2 82.0,100.0 C78.7,110.8 76.9,116.1 76.0,125.0 C75.1,133.9 76.5,148.7 76.6,153.4" stroke="#a86420" stroke-width="1.1" opacity="0.85" fill="none" stroke-linecap="round"/>
<path d="M103.9,9.8L101.8,9.3M103.6,11.5L100.3,9.6M103.3,13.2L107.0,12.2M103.1,14.9L106.3,15.3M102.8,16.6L105.3,15.8M102.5,18.3L104.5,17.7M102.3,19.9L104.8,20.1M102.0,21.6L99.2,20.3M101.8,23.3L104.6,23.4M101.5,25.0L104.3,24.6M101.2,26.7L103.9,26.8M101.0,28.3L98.2,26.4M100.7,30.0L104.2,29.9M100.4,31.7L104.7,30.9M100.2,33.4L103.0,33.4M99.9,35.1L103.3,34.4M99.6,36.8L97.9,36.0M99.4,38.4L103.1,38.7M99.1,40.1L103.0,39.3M98.9,41.8L102.6,42.2M98.6,43.5L96.2,42.0M98.3,45.2L100.7,44.7M98.1,46.8L101.4,46.1M97.8,48.5L100.3,48.3M97.5,50.2L99.6,49.8M97.3,51.9L100.5,51.6M97.0,53.6L100.1,52.8M96.7,55.3L99.0,55.1M96.5,56.9L99.3,56.1M96.2,58.6L92.3,56.7M95.9,60.3L92.6,58.5M95.3,61.9L93.0,59.5M94.8,63.5L91.3,61.7M94.2,65.1L91.2,62.6M93.7,66.7L97.7,66.2M93.1,68.3L91.0,67.5M92.5,69.9L95.4,70.9M92.0,71.5L88.5,69.5M91.4,73.1L93.5,73.4M90.8,74.7L94.3,74.9M90.3,76.4L88.1,74.1M89.7,78.0L87.7,76.8M89.2,79.6L93.4,79.1M88.6,81.2L92.0,82.3M88.0,82.8L86.5,81.3M87.5,84.4L84.7,82.0M86.9,86.0L85.0,85.2M86.3,87.6L83.7,86.4M85.8,89.2L82.7,87.8M85.2,90.8L87.0,91.4M84.7,92.4L88.7,92.7M84.1,94.0L86.1,94.3M83.5,95.6L81.0,94.0M83.0,97.2L80.0,96.1M82.4,98.9L85.7,99.8M81.9,100.5L79.6,99.6M81.5,102.1L78.0,100.3M81.1,103.8L83.5,104.3M80.7,105.4L82.7,105.1M80.3,107.1L77.5,106.1M79.9,108.8L82.5,109.3M79.5,110.4L77.6,109.9M79.1,112.1L75.8,111.2M78.7,113.7L75.2,112.9M78.3,115.4L82.3,115.2M77.9,117.0L74.2,115.8M77.5,118.7L79.9,118.3M77.1,120.3L75.3,119.4M76.7,122.0L74.5,120.6M76.3,123.7L80.3,122.8M76.0,125.3L72.5,125.3M76.0,127.0L72.3,125.5M76.1,128.7L73.1,128.1M76.1,130.4L72.2,128.9M76.2,132.1L73.5,131.4M76.2,133.8L78.0,133.3M76.2,135.5L78.3,135.3M76.3,137.2L78.8,136.9M76.3,138.9L78.2,138.4M76.3,140.6L79.2,139.1M76.4,142.3L72.3,142.2M76.4,144.0L78.7,142.9M76.4,145.7L72.9,144.8M76.5,147.4L79.6,146.0M76.5,149.1L80.3,147.4M76.5,150.8L79.4,149.5M76.6,152.5L73.8,151.4" stroke="#85521a" stroke-width="0.55" opacity="0.75" fill="none"/>
<path d="M115.0,9.0 C113.8,15.8 110.5,36.5 108.0,50.0 C105.5,63.5 101.9,77.9 100.0,90.0 C98.1,102.1 97.3,117.0 96.8,122.4" stroke="#b3701f" stroke-width="1.1" opacity="0.85" fill="none" stroke-linecap="round"/>
<path d="M110.0,9.0 C109.3,17.5 107.0,44.8 106.0,60.0 C105.0,75.2 103.2,86.6 104.0,100.0 C104.8,113.4 109.4,133.8 110.5,140.6" stroke="#b3701f" stroke-width="0.9" opacity="0.8" fill="none" stroke-linecap="round"/>
<path d="M109.9,9.9L112.1,9.1M109.8,11.6L113.7,10.8M109.7,13.3L113.4,13.5M109.5,15.0L105.9,14.1M109.4,16.7L112.2,16.8M109.3,18.4L113.1,17.8M109.1,20.1L113.3,19.3M109.0,21.8L105.8,21.5M108.9,23.6L111.7,22.6M108.7,25.3L112.9,24.8M108.6,27.0L112.4,25.5M108.5,28.7L105.2,28.0M108.3,30.4L111.5,29.5M108.2,32.1L105.2,31.5M108.1,33.8L110.6,33.5M107.9,35.6L112.1,34.8M107.8,37.3L104.8,36.8M107.6,39.0L105.2,38.5M107.5,40.7L109.5,40.5M107.4,42.4L110.6,42.2M107.2,44.1L110.2,43.6M107.1,45.8L104.6,45.0M107.0,47.5L109.7,46.9M106.8,49.3L103.1,48.0M106.7,51.0L109.2,50.9M106.6,52.7L104.4,52.0M106.4,54.4L104.6,53.5M106.3,56.1L104.3,55.2M106.2,57.8L104.1,56.9M106.0,59.5L109.4,59.0M105.9,61.3L109.6,60.5M105.9,63.0L109.5,61.6M105.8,64.7L101.9,63.4M105.7,66.4L108.7,65.7M105.6,68.1L109.3,67.2M105.5,69.8L102.7,69.3M105.4,71.6L108.2,70.8M105.3,73.3L109.1,72.4M105.3,75.0L103.0,74.2M105.2,76.7L102.0,76.0M105.1,78.4L108.9,77.1M105.0,80.1L107.8,78.9M104.9,81.9L101.8,80.5M104.8,83.6L107.9,83.0M104.7,85.3L101.4,84.1M104.6,87.0L107.3,86.5M104.6,88.7L102.6,88.0M104.5,90.4L107.7,89.8M104.4,92.1L107.3,91.4M104.3,93.9L107.4,93.0M104.2,95.6L108.4,93.9M104.1,97.3L108.0,97.5M104.0,99.0L100.2,98.3M104.1,100.7L106.9,99.0M104.4,102.4L107.6,101.9M104.7,104.1L101.2,103.3M104.9,105.8L107.3,104.5M105.2,107.5L108.7,105.4M105.5,109.2L108.3,108.2M105.7,110.9L108.6,109.5M106.0,112.6L104.0,112.8M106.3,114.3L104.2,113.8M106.6,116.0L109.4,113.9M106.8,117.7L103.1,117.6M107.1,119.4L104.8,118.7M107.4,121.1L104.1,121.0M107.6,122.8L109.5,122.4M107.9,124.5L110.5,122.7M108.2,126.2L112.1,125.3M108.5,127.9L104.6,126.7M108.7,129.6L111.5,128.2M109.0,131.3L105.3,130.3M109.3,133.0L112.0,131.3M109.5,134.7L106.9,134.7M109.8,136.4L106.6,136.3M110.1,138.1L107.2,137.4M110.4,139.8L107.7,139.8" stroke="#85521a" stroke-width="0.55" opacity="0.75" fill="none"/>
<path d="M122.0,9.0 C121.3,17.5 119.3,44.8 118.0,60.0 C116.7,75.2 115.0,89.3 114.0,100.0 C113.0,110.7 112.6,120.2 112.3,124.2" stroke="#b97826" stroke-width="0.9" opacity="0.8" fill="none" stroke-linecap="round"/>
<path d="M130.0,9.0 C129.7,17.5 128.5,44.8 128.0,60.0 C127.5,75.2 126.9,89.3 127.0,100.0 C127.1,110.7 128.5,120.2 128.8,124.2" stroke="#b06c20" stroke-width="1.0" opacity="0.85" fill="none" stroke-linecap="round"/>
<path d="M128.0,9.0 C128.7,14.2 130.7,28.2 132.0,40.0 C133.3,51.8 134.7,69.2 136.0,80.0 C137.3,90.8 136.8,94.4 140.0,105.0 C143.2,115.6 152.7,137.0 155.2,143.4" stroke="#a46420" stroke-width="1.0" opacity="0.9" fill="none" stroke-linecap="round"/>
<path d="M128.1,9.8L125.7,9.7M128.3,11.5L130.4,10.5M128.5,13.2L124.6,12.1M128.8,14.9L124.9,14.1M129.0,16.6L131.6,16.2M129.2,18.3L126.2,18.5M129.4,20.0L125.8,19.4M129.6,21.7L127.0,21.7M129.9,23.4L125.9,22.8M130.1,25.1L132.4,24.3M130.3,26.8L127.2,27.0M130.5,28.4L132.7,27.8M130.7,30.1L132.7,29.4M130.9,31.8L128.4,31.9M131.2,33.5L133.2,32.6M131.4,35.2L135.2,34.4M131.6,36.9L129.4,36.5M131.8,38.6L128.3,37.9M132.0,40.3L128.5,40.0M132.2,42.0L128.8,40.8M132.4,43.7L135.6,41.6M132.5,45.4L130.3,45.2M132.7,47.1L130.8,47.1M132.9,48.8L136.5,47.0M133.0,50.5L135.6,48.8M133.2,52.1L136.7,50.0M133.4,53.8L137.0,52.0M133.6,55.5L135.6,55.3M133.7,57.2L130.1,56.9M133.9,58.9L137.2,57.0M134.1,60.6L129.9,59.6M134.2,62.3L137.7,61.0M134.4,64.0L136.3,63.4M134.6,65.7L130.7,66.0M134.7,67.4L138.1,66.3M134.9,69.1L138.8,67.2M135.1,70.8L133.1,70.8M135.3,72.5L132.6,71.9M135.4,74.2L133.0,73.9M135.6,75.9L131.5,74.5M135.8,77.6L137.8,77.2M135.9,79.3L139.0,78.5M136.2,81.0L132.8,80.2M136.4,82.7L134.4,82.8M136.7,84.3L134.7,84.0M137.0,86.0L134.0,85.8M137.2,87.7L134.7,88.1M137.5,89.4L141.5,88.2M137.8,91.1L141.7,89.4M138.0,92.8L135.3,93.2M138.3,94.4L142.2,93.7M138.6,96.1L135.3,96.4M138.8,97.8L140.6,96.9M139.1,99.5L141.3,99.1M139.4,101.2L141.5,100.5M139.7,102.9L137.1,102.9M139.9,104.5L142.5,103.9M140.5,106.2L138.0,106.3M141.1,107.7L144.5,106.3M141.7,109.3L138.8,110.0M142.3,110.9L139.3,111.8M143.0,112.5L145.1,110.2M143.6,114.1L141.0,115.1M144.2,115.7L147.4,113.2M144.8,117.2L146.9,115.7M145.5,118.8L142.7,118.8M146.1,120.4L142.1,121.1M146.7,122.0L143.8,123.0M147.4,123.6L144.6,123.4M148.0,125.2L151.3,123.1M148.6,126.8L144.7,127.1M149.2,128.3L151.3,126.8M149.9,129.9L146.3,129.8M150.5,131.5L148.6,131.8M151.1,133.1L152.8,132.0M151.7,134.7L154.0,132.9M152.4,136.3L150.2,136.5M153.0,137.9L154.5,136.2M153.6,139.4L150.5,139.8M154.3,141.0L156.2,139.6M154.9,142.6L151.9,143.6" stroke="#85521a" stroke-width="0.55" opacity="0.75" fill="none"/>
<path d="M140.0,9.0 C141.0,14.2 144.3,29.8 146.0,40.0 C147.7,50.2 147.7,58.3 150.0,70.0 C152.3,81.7 155.6,95.8 160.0,110.0 C164.4,124.2 173.5,147.7 176.2,155.2" stroke="#b67a30" stroke-width="0.9" opacity="0.8" fill="none" stroke-linecap="round"/>
<path d="M150.0,9.0 C151.7,14.2 156.7,28.2 160.0,40.0 C163.3,51.8 166.7,67.5 170.0,80.0 C173.3,92.5 177.3,104.6 180.0,115.0 C182.7,125.4 185.2,137.8 186.2,142.4" stroke="#bb8038" stroke-width="0.8" opacity="0.7" fill="none" stroke-linecap="round"/>
<path d="M150.0,9.0 C149.7,11.7 148.5,19.5 148.0,25.0 C147.5,30.5 148.3,36.2 147.0,42.0 C145.7,47.8 142.8,54.0 140.0,60.0 C137.2,66.0 133.0,73.0 130.0,78.0 C127.0,83.0 123.3,88.0 122.0,90.0" stroke="#a45c18" stroke-width="1.6" opacity="0.95" fill="none" stroke-linecap="round"/>
<path d="M160.0,9.0 C162.0,12.5 167.7,22.3 172.0,30.0 C176.3,37.7 182.5,48.3 186.0,55.0 C189.5,61.7 191.8,67.5 193.0,70.0" stroke="#c89048" stroke-width="0.7" opacity="0.55" fill="none" stroke-linecap="round"/>
<path d="M170.0,9.0 C172.0,11.7 178.2,19.8 182.0,25.0 C185.8,30.2 191.2,37.5 193.0,40.0" stroke="#c89048" stroke-width="0.7" opacity="0.5" fill="none" stroke-linecap="round"/>
<path d="M84.0,9.0 C81.7,14.2 74.8,29.8 70.0,40.0 C65.2,50.2 60.0,60.8 55.0,70.0 C50.0,79.2 42.5,90.8 40.0,95.0" stroke="#b87424" stroke-width="1.0" opacity="0.8" fill="none" stroke-linecap="round"/>
<path d="M83.6,9.8L86.4,10.6M82.9,11.4L80.2,8.7M82.2,12.9L84.4,13.0M81.5,14.5L85.9,14.6M80.8,16.1L77.8,14.0M80.1,17.7L82.0,17.8M79.4,19.2L76.6,16.8M78.7,20.8L82.3,22.1M78.0,22.4L80.1,23.0M77.2,24.0L80.8,24.4M76.5,25.5L80.4,25.4M75.8,27.1L73.4,24.6M75.1,28.7L77.3,28.8M74.4,30.2L72.6,28.7M73.7,31.8L72.2,30.2M73.0,33.4L75.2,34.0M72.3,35.0L70.1,33.2M71.6,36.5L75.3,36.4M70.9,38.1L69.0,36.0M70.1,39.7L67.4,36.8M69.4,41.2L66.5,39.5M68.6,42.8L65.7,40.0M67.8,44.3L66.5,42.7M67.1,45.9L64.5,43.9M66.3,47.4L69.3,47.9M65.5,49.0L67.5,49.0M64.7,50.5L67.9,50.7M64.0,52.1L61.3,49.8M63.2,53.6L65.3,54.6M62.4,55.1L59.4,51.9M61.7,56.7L65.4,57.8M60.9,58.2L59.1,56.0M60.1,59.8L63.9,61.1M59.3,61.3L63.0,61.9M58.6,62.9L56.0,61.0M57.8,64.4L60.5,64.8M57.0,66.0L55.0,64.8M56.2,67.5L58.1,67.9M55.5,69.0L52.8,67.6M54.7,70.6L52.9,68.7M53.8,72.0L50.9,69.0M52.9,73.5L51.7,71.7M52.0,75.0L54.3,76.2M51.1,76.5L49.6,75.3M50.2,78.0L48.3,76.5M49.3,79.5L46.6,77.4M48.4,80.9L51.9,81.5M47.6,82.4L51.4,82.8M46.7,83.9L50.6,84.4M45.8,85.4L47.9,86.2M44.9,86.9L42.2,83.5M44.0,88.3L41.4,86.1M43.1,89.8L41.8,88.3M42.2,91.3L40.2,89.7M41.3,92.8L39.3,90.6M40.4,94.3L37.7,90.8" stroke="#85521a" stroke-width="0.55" opacity="0.75" fill="none"/>
<path d="M92.0,9.0 C90.7,14.2 86.3,29.8 84.0,40.0 C81.7,50.2 80.3,60.3 78.0,70.0 C75.7,79.7 71.3,93.3 70.0,98.0" stroke="#b87424" stroke-width="0.9" opacity="0.8" fill="none" stroke-linecap="round"/>
<path d="M108.0,9.0 C106.7,14.2 102.7,29.0 100.0,40.0 C97.3,51.0 94.5,65.0 92.0,75.0 C89.5,85.0 86.2,95.8 85.0,100.0" stroke="#ad6a20" stroke-width="0.9" opacity="0.85" fill="none" stroke-linecap="round"/>
<path d="M107.8,9.8L105.4,9.0M107.4,11.5L104.0,9.8M106.9,13.1L110.1,13.4M106.5,14.8L103.5,13.6M106.1,16.4L109.8,16.1M105.7,18.1L109.5,17.7M105.2,19.7L108.5,19.0M104.8,21.4L107.9,21.2M104.4,23.0L100.5,21.8M103.9,24.7L102.3,23.8M103.5,26.4L100.6,25.0M103.1,28.0L101.3,26.5M102.7,29.7L100.6,28.9M102.2,31.3L98.4,29.6M101.8,33.0L98.7,30.4M101.4,34.6L103.5,34.8M101.0,36.3L103.8,36.4M100.5,37.9L103.4,38.1M100.1,39.6L98.0,38.5M99.7,41.2L97.6,40.0M99.3,42.9L101.9,42.9M99.0,44.6L101.2,44.3M98.6,46.2L102.3,45.9M98.2,47.9L101.2,48.1M97.8,49.6L95.0,47.5M97.4,51.2L99.7,51.5M97.1,52.9L93.8,50.2M96.7,54.5L94.6,52.8M96.3,56.2L98.1,56.4M95.9,57.9L94.0,57.3M95.5,59.5L98.1,60.0M95.2,61.2L91.5,58.7M94.8,62.9L91.5,61.7M94.4,64.5L92.0,62.6M94.0,66.2L96.7,66.1M93.6,67.9L91.7,66.7M93.3,69.5L95.5,69.1M92.9,71.2L90.4,70.1M92.5,72.9L94.8,73.1M92.1,74.5L89.8,73.9M91.7,76.2L93.6,76.3M91.2,77.8L88.9,76.3M90.8,79.5L93.7,80.2M90.3,81.1L94.4,80.9M89.8,82.7L92.8,82.7M89.4,84.4L86.8,83.6M88.9,86.0L92.2,86.3M88.5,87.7L85.9,86.8M88.0,89.3L92.1,88.6M87.5,91.0L84.5,89.1M87.1,92.6L89.6,93.0M86.6,94.2L90.2,95.2M86.2,95.9L88.6,95.8M85.7,97.5L82.6,95.6M85.2,99.2L82.2,97.4" stroke="#85521a" stroke-width="0.55" opacity="0.75" fill="none"/>
<path d="M118.0,9.0 C117.3,13.3 115.3,24.8 114.0,35.0 C112.7,45.2 111.0,59.5 110.0,70.0 C109.0,80.5 108.3,93.3 108.0,98.0" stroke="#ad6a20" stroke-width="0.8" opacity="0.75" fill="none" stroke-linecap="round"/>
<path d="M124.0,9.0 C124.3,14.2 126.3,28.2 126.0,40.0 C125.7,51.8 123.3,70.0 122.0,80.0 C120.7,90.0 118.7,96.7 118.0,100.0" stroke="#9f5c18" stroke-width="1.0" opacity="0.8" fill="none" stroke-linecap="round"/>
<path d="M124.1,9.9L126.3,9.6M124.2,11.6L127.0,10.6M124.3,13.3L121.9,12.8M124.4,15.0L127.3,13.7M124.5,16.8L126.7,16.2M124.6,18.5L128.2,16.5M124.7,20.2L127.3,18.9M124.8,21.9L122.7,21.7M124.9,23.7L128.5,21.7M125.1,25.4L127.8,24.5M125.2,27.1L128.0,25.7M125.3,28.8L121.9,28.7M125.4,30.6L122.8,30.7M125.5,32.3L127.7,31.2M125.6,34.0L122.1,33.8M125.7,35.8L121.9,34.4M125.8,37.5L123.5,36.9M125.9,39.2L123.2,38.9M125.9,40.9L122.5,39.4M125.7,42.6L122.1,41.2M125.6,44.4L121.7,42.5M125.4,46.1L128.1,45.1M125.2,47.8L121.7,46.6M125.0,49.5L129.1,49.1M124.9,51.3L122.0,50.4M124.7,53.0L127.7,52.5M124.5,54.7L127.6,54.6M124.4,56.4L121.7,55.4M124.2,58.1L127.9,57.1M124.0,59.9L126.0,59.2M123.8,61.6L127.5,61.4M123.7,63.3L120.3,61.7M123.5,65.0L126.3,65.0M123.3,66.7L119.6,65.3M123.2,68.5L125.0,68.0M123.0,70.2L120.5,69.2M122.8,71.9L119.9,71.1M122.6,73.6L126.6,72.6M122.5,75.3L120.2,74.7M122.3,77.1L119.5,76.2M122.1,78.8L118.5,77.4M121.9,80.5L120.1,79.7M121.6,82.2L118.7,80.4M121.2,83.9L123.8,83.9M120.9,85.6L123.7,86.0M120.5,87.3L118.7,86.9M120.2,89.0L116.5,87.9M119.9,90.7L124.0,90.5M119.5,92.4L123.1,91.7M119.2,94.1L115.6,92.9M118.8,95.8L117.1,94.4M118.5,97.5L121.2,97.9M118.2,99.2L115.0,97.3" stroke="#85521a" stroke-width="0.55" opacity="0.75" fill="none"/>
<path d="M134.0,9.0 C134.3,14.2 136.0,29.8 136.0,40.0 C136.0,50.2 135.0,60.8 134.0,70.0 C133.0,79.2 130.7,90.8 130.0,95.0" stroke="#a8661e" stroke-width="0.9" opacity="0.8" fill="none" stroke-linecap="round"/>
<path d="M138.0,9.0 C138.7,13.3 140.7,26.5 142.0,35.0 C143.3,43.5 144.7,51.7 146.0,60.0 C147.3,68.3 148.0,78.3 150.0,85.0 C152.0,91.7 156.7,97.5 158.0,100.0" stroke="#b47628" stroke-width="0.8" opacity="0.8" fill="none" stroke-linecap="round"/>
<path d="M76.0,9.0 C74.3,12.5 69.3,23.2 66.0,30.0 C62.7,36.8 59.5,43.3 56.0,50.0 C52.5,56.7 46.8,66.7 45.0,70.0" stroke="#c08434" stroke-width="0.8" opacity="0.7" fill="none" stroke-linecap="round"/>
<path d="M112.0,9.0 C113.0,12.5 116.0,22.3 118.0,30.0 C120.0,37.7 121.7,46.7 124.0,55.0 C126.3,63.3 129.0,72.5 132.0,80.0 C135.0,87.5 140.3,96.7 142.0,100.0" stroke="#a86a22" stroke-width="0.8" opacity="0.7" fill="none" stroke-linecap="round"/>
<path d="M112.2,9.8L113.8,8.6M112.7,11.5L109.6,12.1M113.2,13.1L109.3,13.9M113.7,14.8L116.6,12.1M114.1,16.4L116.6,15.1M114.6,18.1L112.5,18.2M115.1,19.7L111.8,20.5M115.5,21.4L119.1,19.4M116.0,23.0L113.4,23.1M116.5,24.7L112.2,24.1M117.0,26.3L119.6,24.1M117.4,28.0L119.5,26.4M117.9,29.6L113.6,28.9M118.3,31.3L120.5,29.5M118.7,33.0L116.0,32.6M119.1,34.6L121.0,33.1M119.5,36.3L116.2,35.8M119.9,38.0L116.6,37.9M120.3,39.7L122.2,38.8M120.7,41.3L118.1,41.7M121.1,43.0L123.2,42.3M121.5,44.7L117.8,45.4M121.9,46.3L117.9,46.2M122.3,48.0L120.2,47.9M122.7,49.7L119.6,49.8M123.1,51.3L120.7,50.9M123.5,53.0L126.4,52.2M123.9,54.7L126.7,53.5M124.4,56.3L126.4,54.8M124.9,58.0L123.1,58.3M125.5,59.6L121.6,60.3M126.0,61.2L128.5,58.8M126.5,62.9L128.4,61.1M127.0,64.5L129.8,62.5M127.6,66.1L124.1,67.2M128.1,67.8L124.2,68.8M128.6,69.4L130.5,67.7M129.1,71.0L126.6,71.6M129.7,72.7L132.0,71.6M130.2,74.3L127.0,73.9M130.7,75.9L133.9,74.2M131.2,77.6L134.7,75.9M131.7,79.2L129.0,79.2M132.4,80.8L128.5,80.9M133.2,82.3L136.5,80.2M133.9,83.9L130.5,84.2M134.7,85.4L130.8,86.2M135.5,86.9L131.2,87.3M136.2,88.5L137.9,86.6M137.0,90.0L133.9,90.1M137.8,91.6L140.7,89.7M138.5,93.1L141.7,91.2M139.3,94.6L136.3,94.8M140.1,96.2L142.3,94.8M140.8,97.7L139.2,98.4M141.6,99.2L137.9,100.1" stroke="#85521a" stroke-width="0.55" opacity="0.75" fill="none"/>
<path d="M98.0,9.0 C97.3,14.2 95.3,30.7 94.0,40.0 C92.7,49.3 91.3,57.5 90.0,65.0 C88.7,72.5 86.7,81.7 86.0,85.0" stroke="#b07028" stroke-width="0.8" opacity="0.7" fill="none" stroke-linecap="round"/>
<rect x="15.7" y="104.3" width="172.1" height="144.5" fill="none" stroke="#4f535e" stroke-width="1.8"/>
<text x="12.2" y="46.6" font-size="31" fill="#4a4f5d" font-weight="bold" text-anchor="start" >A</text>
<text x="161.8" y="221.6" font-size="8.6" fill="#4f5663" font-weight="bold" text-anchor="middle" >2 cm</text>
<rect x="147.8" y="225.1" width="28.1" height="2.5" fill="#4f5663"/>
<text x="161.4" y="239.5" font-size="8.8" fill="#4f5663" font-weight="bold" text-anchor="middle" >35 DAT</text>
</g>
<g clip-path="url(#clipB)">
<rect x="242" y="9" width="297" height="246" fill="#f5e5ba"/>
<rect x="242" y="9" width="285" height="9.5" fill="url(#stripG)"/>
<rect x="527" y="9" width="12" height="9.5" fill="#f3e0ae"/>
<path d="M425.8,9 L428.7,19" stroke="#b8862e" stroke-width="1.26" opacity="0.68" fill="none"/>
<path d="M456.6,9 L461.7,19" stroke="#b8862e" stroke-width="0.72" opacity="0.51" fill="none"/>
<path d="M510.1,9 L511.9,19" stroke="#b8862e" stroke-width="1.33" opacity="0.39" fill="none"/>
<path d="M385.4,9 L382.3,19" stroke="#b8862e" stroke-width="1.08" opacity="0.55" fill="none"/>
<path d="M265.4,9 L262.0,19" stroke="#b8862e" stroke-width="0.90" opacity="0.67" fill="none"/>
<path d="M463.4,9 L459.3,19" stroke="#b8862e" stroke-width="1.26" opacity="0.40" fill="none"/>
<path d="M424.4,9 L419.9,19" stroke="#b8862e" stroke-width="0.70" opacity="0.65" fill="none"/>
<path d="M317.1,9 L313.7,19" stroke="#b8862e" stroke-width="1.39" opacity="0.66" fill="none"/>
<path d="M338.1,9 L343.6,19" stroke="#b8862e" stroke-width="1.08" opacity="0.59" fill="none"/>
<path d="M315.9,9 L321.1,19" stroke="#b8862e" stroke-width="1.18" opacity="0.69" fill="none"/>
<path d="M497.1,9 L494.6,19" stroke="#b8862e" stroke-width="0.95" opacity="0.41" fill="none"/>
<path d="M300.3,9 L295.1,19" stroke="#b8862e" stroke-width="0.91" opacity="0.56" fill="none"/>
<path d="M262.9,9 L265.0,19" stroke="#b8862e" stroke-width="0.94" opacity="0.46" fill="none"/>
<path d="M477.3,9 L477.0,19" stroke="#b8862e" stroke-width="0.92" opacity="0.52" fill="none"/>
<path d="M447.3,9 L442.0,19" stroke="#b8862e" stroke-width="1.38" opacity="0.36" fill="none"/>
<path d="M459.2,9 L463.3,19" stroke="#b8862e" stroke-width="0.71" opacity="0.63" fill="none"/>
<path d="M358.3,9 L359.2,19" stroke="#b8862e" stroke-width="0.71" opacity="0.37" fill="none"/>
<path d="M309.6,9 L315.0,19" stroke="#b8862e" stroke-width="0.84" opacity="0.61" fill="none"/>
<path d="M506.5,9 L511.8,19" stroke="#b8862e" stroke-width="0.94" opacity="0.47" fill="none"/>
<path d="M400.0,9 L403.3,19" stroke="#b8862e" stroke-width="0.78" opacity="0.61" fill="none"/>
<path d="M471.7,9 L476.0,19" stroke="#b8862e" stroke-width="0.73" opacity="0.68" fill="none"/>
<path d="M286.0,9 L284.1,19" stroke="#b8862e" stroke-width="1.13" opacity="0.67" fill="none"/>
<path d="M351.4,9 L356.5,19" stroke="#b8862e" stroke-width="1.08" opacity="0.46" fill="none"/>
<path d="M345.3,9 L341.4,19" stroke="#b8862e" stroke-width="0.75" opacity="0.40" fill="none"/>
<path d="M443.3,9 L449.2,19" stroke="#b8862e" stroke-width="0.81" opacity="0.37" fill="none"/>
<path d="M521.5,9 L521.9,19" stroke="#b8862e" stroke-width="0.98" opacity="0.43" fill="none"/>
<rect x="256.5" y="18" width="270.3" height="225" fill="#000" opacity="0.6"/>
<path d="M329.6,9.0 C328.3,13.4 325.2,25.2 321.7,35.3 C318.2,45.4 312.4,60.7 308.5,69.4 C304.6,78.2 301.1,81.0 298.0,87.8 C294.9,94.6 292.2,103.1 290.2,110.0 C288.2,116.9 287.2,121.0 286.0,129.3 C284.8,137.6 283.6,149.9 283.2,160.0 C282.8,170.1 283.2,181.5 283.6,190.0 C284.0,198.5 285.2,207.5 285.5,211.0" stroke="#4a3012" stroke-width="1.6" opacity="0.95" fill="none" stroke-linecap="round"/>
<path d="M342.7,9.0 C340.9,12.9 336.1,23.9 332.2,32.6 C328.2,41.4 322.1,52.3 319.0,61.5 C315.9,70.7 315.3,79.7 313.8,87.8 C312.3,95.9 310.9,103.0 309.9,110.0 C308.9,117.0 308.4,123.0 308.0,130.0 C307.6,137.0 307.6,148.3 307.5,152.0" stroke="#4a3012" stroke-width="1.4" opacity="0.95" fill="none" stroke-linecap="round"/>
<path d="M305.0,15.0 C306.7,17.5 311.8,25.0 315.0,30.0 C318.2,35.0 321.3,40.7 324.0,45.0 C326.7,49.3 329.8,54.2 331.0,56.0" stroke="#3e2a10" stroke-width="1.0" opacity="0.9" fill="none" stroke-linecap="round"/>
<path d="M305.5,15.8L302.6,16.3M306.6,17.3L303.4,18.9M307.6,18.9L303.7,19.7M308.6,20.4L310.3,19.1M309.7,22.0L307.4,23.0M310.7,23.5L312.7,22.1M311.7,25.1L308.9,26.1M312.8,26.7L308.9,28.8M313.8,28.2L310.3,28.7M314.8,29.8L316.8,27.2M315.8,31.4L317.4,29.8M316.8,33.0L319.0,31.1M317.7,34.6L319.5,33.5M318.7,36.2L320.7,33.9M319.7,37.8L322.0,35.4M320.6,39.4L322.9,37.7M321.6,41.0L324.5,38.7M322.5,42.6L325.0,38.7M323.5,44.2L320.6,44.5M324.5,45.8L325.8,43.6M325.5,47.3L327.4,44.9M326.5,48.9L322.8,50.3M327.5,50.5L330.8,47.5M328.5,52.1L330.7,50.1M329.5,53.6L326.7,54.1M330.5,55.2L326.6,56.5" stroke="#3e2a10" stroke-width="0.6" opacity="0.9" fill="none"/>
<path d="M349.3,9.0 C349.1,14.2 348.2,31.2 348.0,40.0 C347.8,48.8 347.6,52.7 348.0,61.5 C348.4,70.3 350.2,87.8 350.6,93.0" stroke="#3e2a10" stroke-width="1.3" opacity="0.9" fill="none" stroke-linecap="round"/>
<path d="M349.3,9.9L345.2,9.4M349.2,11.7L346.5,11.1M349.1,13.6L353.5,12.2M349.0,15.4L344.7,14.3M349.0,17.2L346.8,16.7M348.9,19.1L344.7,16.9M348.8,20.9L351.9,20.7M348.7,22.7L346.0,22.0M348.6,24.5L352.0,23.5M348.6,26.4L351.4,25.5M348.5,28.2L345.1,28.0M348.4,30.0L352.4,30.1M348.3,31.8L345.8,31.0M348.3,33.7L352.1,33.5M348.2,35.5L346.1,34.3M348.1,37.3L351.7,36.4M348.0,39.2L352.4,38.0M348.0,41.0L344.1,39.2M348.0,42.8L351.2,42.6M348.0,44.6L345.7,44.2M348.0,46.5L351.2,45.8M348.0,48.3L350.9,48.1M348.0,50.1L351.9,49.5M348.0,52.0L351.8,51.8M348.0,53.8L351.8,53.5M348.0,55.6L350.3,55.2M348.0,57.4L345.4,56.4M348.0,59.3L345.4,59.1M348.0,61.1L351.6,59.9M348.1,62.9L344.4,62.6M348.3,64.7L350.1,63.9M348.4,66.6L346.3,65.9M348.6,68.4L350.5,67.4M348.7,70.2L345.1,69.5M348.9,72.0L351.3,71.6M349.0,73.9L352.9,73.1M349.2,75.7L351.0,74.6M349.3,77.5L352.8,76.2M349.5,79.3L352.6,78.9M349.6,81.2L353.9,79.3M349.8,83.0L345.4,83.0M349.9,84.8L352.9,83.7M350.1,86.6L347.3,86.5M350.2,88.4L352.6,87.6M350.4,90.3L352.7,89.2M350.5,92.1L353.8,91.4" stroke="#3e2a10" stroke-width="0.6" opacity="0.9" fill="none"/>
<path d="M459.0,38.0 C460.5,41.7 465.2,53.2 468.0,60.0 C470.8,66.8 474.7,75.8 476.0,79.0" stroke="#3a2810" stroke-width="1.3" opacity="1.0" fill="none" stroke-linecap="round"/>
<path d="M461.0,42.9L466.9,40.9M462.4,46.2L468.2,44.2M463.8,49.5L469.1,47.6M465.1,52.8L470.4,50.9M466.5,56.0L470.1,54.8M467.8,59.3L471.9,57.9M469.2,62.6L472.7,61.4M470.6,65.9L476.2,63.9M471.9,69.2L477.2,67.3M473.3,72.4L478.4,70.7M474.6,75.7L478.8,74.3" stroke="#3a2810" stroke-width="0.8" opacity="0.9" fill="none"/>
<path d="M481.7,9.0 C483.4,14.2 488.6,29.8 492.0,40.0 C495.4,50.2 499.1,60.4 502.0,70.0 C504.9,79.6 508.4,93.0 509.7,97.6" stroke="#3e2a10" stroke-width="1.2" opacity="0.9" fill="none" stroke-linecap="round"/>
<path d="M503.2,9.0 C504.7,12.5 509.2,23.2 512.0,30.0 C514.8,36.8 517.9,44.5 520.0,50.0 C522.1,55.5 523.9,60.9 524.7,63.1" stroke="#3e2a10" stroke-width="1.1" opacity="0.9" fill="none" stroke-linecap="round"/>
<path d="M395.0,9.0 C395.5,12.5 397.0,23.2 398.0,30.0 C399.0,36.8 400.3,43.3 401.0,50.0 C401.7,56.7 401.8,66.7 402.0,70.0" stroke="#3e2a10" stroke-width="0.9" opacity="0.6" fill="none" stroke-linecap="round"/>
<path d="M434.0,9.0 C435.0,11.7 438.3,20.2 440.0,25.0 C441.7,29.8 443.3,35.8 444.0,38.0" stroke="#3e2a10" stroke-width="0.9" opacity="0.7" fill="none" stroke-linecap="round"/>
<path d="M387.4,9.0 C386.8,12.5 384.9,23.9 384.0,30.0 C383.1,36.1 382.3,43.2 382.0,45.8" stroke="#3e2a10" stroke-width="0.9" opacity="0.7" fill="none" stroke-linecap="round"/>
<path d="M366.0,9.0 C366.3,11.7 367.5,19.8 368.0,25.0 C368.5,30.2 368.8,37.5 369.0,40.0" stroke="#3e2a10" stroke-width="0.8" opacity="0.6" fill="none" stroke-linecap="round"/>
<path d="M287.5,9.0 C287.8,10.2 288.6,13.8 289.0,16.0 C289.4,18.2 289.8,21.0 290.0,22.0" stroke="#5a3a14" stroke-width="0.9" opacity="0.7" fill="none" stroke-linecap="round"/>
<path d="M264.0,9.0 C263.3,9.8 261.3,12.3 260.0,14.0 C258.7,15.7 256.7,18.2 256.0,19.0" stroke="#7a4a18" stroke-width="1.0" opacity="0.7" fill="none" stroke-linecap="round"/>
<path d="M420.0,9.0 C420.7,10.0 423.3,14.0 424.0,15.0" stroke="#5a3a14" stroke-width="1.0" opacity="0.7" fill="none" stroke-linecap="round"/>
<path d="M470.0,9.0 C470.7,10.5 473.3,16.5 474.0,18.0" stroke="#5a3a14" stroke-width="1.0" opacity="0.7" fill="none" stroke-linecap="round"/>
<circle cx="290" cy="60" r="1" fill="#3e3a2e" opacity="0.6"/>
<circle cx="277" cy="73" r="2.2" fill="#3e3a2e" opacity="0.6"/>
<circle cx="376.5" cy="96.2" r="1.5" fill="#3e3a2e" opacity="0.6"/>
<circle cx="429.5" cy="91.7" r="0.9" fill="#3e3a2e" opacity="0.6"/>
<circle cx="394.5" cy="114.3" r="1.1" fill="#3e3a2e" opacity="0.6"/>
<circle cx="471.8" cy="127.5" r="1" fill="#3e3a2e" opacity="0.6"/>
<circle cx="462" cy="130" r="0.8" fill="#3e3a2e" opacity="0.6"/>
<circle cx="448.5" cy="135.7" r="1.1" fill="#3e3a2e" opacity="0.6"/>
<circle cx="495.3" cy="147.9" r="0.9" fill="#3e3a2e" opacity="0.6"/>
<circle cx="395.5" cy="173.3" r="0.9" fill="#3e3a2e" opacity="0.6"/>
<circle cx="471.8" cy="178.5" r="0.7" fill="#3e3a2e" opacity="0.6"/>
<circle cx="260.4" cy="145" r="1.3" fill="#3e3a2e" opacity="0.6"/>
<circle cx="318.8" cy="129" r="0.9" fill="#3e3a2e" opacity="0.6"/>
<circle cx="336.4" cy="167" r="1" fill="#3e3a2e" opacity="0.6"/>
<circle cx="351" cy="222.6" r="0.9" fill="#3e3a2e" opacity="0.6"/>
<circle cx="393.3" cy="113" r="0.8" fill="#3e3a2e" opacity="0.6"/>
<circle cx="264" cy="130" r="1.6" fill="#3e3a2e" opacity="0.6"/>
<circle cx="423.2" cy="183" r="3.5" fill="#55503f" opacity="0.8" filter="url(#blur1)"/>
<g clip-path="url(#clipOv)"><g filter="url(#speckle)">
<path d="M352,14 L440,14 L436,26 L428,40 L418,50 L408,60 L402,67 L394,58 L384,48 L372,40 L360,28 Z" fill="#8c64b0" opacity="0.55" filter="url(#blur3)"/>
<path d="M374,16 L390,16 L388,30 L384,46 L380,50 L377,38 Z" fill="#7a62d0" opacity="0.45" filter="url(#blur2)"/>
<path d="M395,14 L423,14 L420,32 L413,48 L405,64 L400,56 L397,38 Z" fill="#5a64e4" opacity="0.85" filter="url(#blur2)"/>
<path d="M401,14 L419,14 L416,32 L412,46 L405,60 L402,50 L402,33 Z" fill="#48ccd8" opacity="0.95" filter="url(#blur1)"/>
<path d="M405,16 L416,16 L414,32 L411,45 L407,42 L406,28 Z" fill="#62ee92" opacity="0.95" filter="url(#blur1)"/>
<path d="M436,14 L458,14 L462,30 L462,44 L456,46 L446,34 L438,24 Z" fill="#8a62b4" opacity="0.55" filter="url(#blur2)"/>
<path d="M445,16 L452,16 L456,28 L460,40 L458,45 L452,36 L447,26 Z" fill="#5a66ea" opacity="0.9" filter="url(#blur1)"/>
<path d="M451,24 L454,24 L457,32 L457,38 L454,34 Z" fill="#4fd8d0" opacity="0.9" filter="url(#blur1)"/>
<path d="M527,64 L520,70 L514,82 L512,94 L518,103 L527,104 Z" fill="#8a62b4" opacity="0.6" filter="url(#blur2)"/>
<path d="M527,68 L521,74 L519,86 L521,97 L527,99 Z" fill="#5a6aec" opacity="0.9" filter="url(#blur1)"/>
<path d="M527,74 L523,79 L522,88 L524,94 L527,95 Z" fill="#50e0c0" opacity="0.9" filter="url(#blur1)"/>
<ellipse cx="330" cy="48" rx="5" ry="8" fill="#b070c8" opacity="0.8" filter="url(#blur2)" transform="rotate(-20 330 48)"/>
<ellipse cx="329" cy="47" rx="1.5" ry="6" fill="#5a50e0" opacity="0.6" filter="url(#blur1)" transform="rotate(-20 329 47)"/>
<ellipse cx="305.3" cy="113.8" rx="3.5" ry="4" fill="#9a60d0" opacity="0.7" filter="url(#blur1)" transform="rotate(0 305.3 113.8)"/>
<ellipse cx="305.5" cy="113.8" rx="1.5" ry="2" fill="#5a60f0" opacity="0.8" filter="url(#blur1)" transform="rotate(0 305.5 113.8)"/>
<ellipse cx="283.3" cy="150" rx="3.2" ry="7" fill="#9a60d0" opacity="0.6" filter="url(#blur1)" transform="rotate(0 283.3 150)"/>
<ellipse cx="283.3" cy="153" rx="1.4" ry="3" fill="#5a60f0" opacity="0.75" filter="url(#blur1)" transform="rotate(0 283.3 153)"/>
<ellipse cx="280.8" cy="162" rx="1.8" ry="2.5" fill="#c070b0" opacity="0.5" filter="url(#blur1)" transform="rotate(0 280.8 162)"/>
<ellipse cx="308" cy="152.2" rx="3" ry="5" fill="#9a60d0" opacity="0.6" filter="url(#blur1)" transform="rotate(0 308 152.2)"/>
<ellipse cx="308" cy="152.2" rx="1.3" ry="3" fill="#5a60f0" opacity="0.7" filter="url(#blur1)" transform="rotate(0 308 152.2)"/>
<ellipse cx="349" cy="90" rx="2.5" ry="2.5" fill="#c070b0" opacity="0.5" filter="url(#blur1)" transform="rotate(0 349 90)"/>
<ellipse cx="286" cy="219" rx="6" ry="10" fill="#7a5cd8" opacity="0.7" filter="url(#blur2)" transform="rotate(0 286 219)"/>
<ellipse cx="286.5" cy="219" rx="3" ry="7.5" fill="#4d70f0" opacity="0.95" filter="url(#blur1)" transform="rotate(0 286.5 219)"/>
<ellipse cx="287" cy="218" rx="1.6" ry="4.5" fill="#60d8f0" opacity="0.85" filter="url(#blur1)" transform="rotate(0 287 218)"/>
<ellipse cx="322" cy="24" rx="14" ry="7" fill="#8a5cc8" opacity="0.35" filter="url(#blur4)" transform="rotate(0 322 24)"/>
<ellipse cx="350" cy="22" rx="10" ry="5" fill="#8a5cc8" opacity="0.3" filter="url(#blur4)" transform="rotate(0 350 22)"/>
</g></g>
<path d="M382,241 l2,-5 M386,241 l1.5,-5 l2,5 M392,236 v5 M395,236 c3,0 3,5 0,5 M400,238 c2,-3 5,0 2,3 M423,241 l2,-3 l2,3 M430,239 c2,-2 4,0 2,2 M483,236 h6 M486,236 v5 M492,238 c1,3 2,3 3,0 M500,236 v5" stroke="#e6d2d2" stroke-width="0.6" opacity="0.5" fill="none"/>
<rect x="243" y="202.4" width="100.7" height="33.7" fill="none" stroke="#cfcfcf" stroke-width="1.8"/>
<text x="244.2" y="225.2" font-size="21" fill="#5e5e60" font-weight="bold" text-anchor="start" >a</text>
<text x="325.2" y="225.2" font-size="20.5" fill="#ffffff" font-weight="bold" text-anchor="start" >b</text>
<path d="M260.5,220H323.4" stroke="#fff" stroke-width="2"/>
<path d="M257.6,216.2L261.5,219V221L257.6,223.9Z" fill="#fff"/>
<path d="M323.6,216.2L319.7,219V221L323.6,223.9Z" fill="#fff"/>
<text x="484.2" y="198.4" font-size="13.5" fill="#fff" font-weight="bold" text-anchor="middle" >2 cm</text>
<rect x="461.4" y="203.6" width="46.7" height="4" fill="#fff"/>
<text x="485.4" y="226" font-size="14.6" fill="#fff" font-weight="bold" text-anchor="middle" >35 DAT</text>
<text x="259.5" y="46.9" font-size="31" fill="#fff" font-weight="bold" text-anchor="start" >B</text>
</g>
<rect x="235.4" y="9.4" width="6.6" height="48.8" fill="#2fe64f"/>
<rect x="235.4" y="58" width="6.6" height="49.5" fill="#31ccf2"/>
<rect x="235.4" y="107.3" width="6.6" height="49.9" fill="#1c1ee8"/>
<rect x="235.4" y="157" width="6.6" height="49.5" fill="#3b0f6c"/>
<rect x="235.4" y="206.3" width="6.6" height="48.9" fill="#050505"/>
<text x="223.4" y="16.8" font-size="10.4" fill="#111" font-weight="bold" text-anchor="middle" >125</text>
<text x="223.4" y="62.8" font-size="10.4" fill="#111" font-weight="bold" text-anchor="middle" >100</text>
<text x="223.4" y="111.5" font-size="10.4" fill="#111" font-weight="bold" text-anchor="middle" >75</text>
<text x="223.4" y="161.3" font-size="10.4" fill="#111" font-weight="bold" text-anchor="middle" >50</text>
<text x="223.4" y="210.1" font-size="10.4" fill="#111" font-weight="bold" text-anchor="middle" >25</text>
<text x="223.4" y="251.8" font-size="10.4" fill="#111" font-weight="bold" text-anchor="middle" >0</text>
<text transform="translate(207.6,133.4) rotate(-90)" font-size="10.8" font-weight="bold" fill="#111" text-anchor="middle">O<tspan font-size="7.4" dy="1.6">2</tspan><tspan dy="-1.6"> [μM]</tspan></text>
<line x1="234.6" y1="10" x2="187.8" y2="104.3" stroke="#555" stroke-width="0.9"/>
<line x1="235.6" y1="254.8" x2="187.8" y2="248.8" stroke="#555" stroke-width="0.9"/>
<line x1="108.5" y1="448.1" x2="408.5" y2="448.1" stroke="#dedede" stroke-width="1.1"/>
<line x1="108.5" y1="408.7" x2="408.5" y2="408.7" stroke="#dedede" stroke-width="1.1"/>
<line x1="108.5" y1="369.2" x2="408.5" y2="369.2" stroke="#dedede" stroke-width="1.1"/>
<line x1="108.5" y1="329.8" x2="408.5" y2="329.8" stroke="#dedede" stroke-width="1.1"/>
<line x1="108.5" y1="290.4" x2="408.5" y2="290.4" stroke="#dedede" stroke-width="1.1"/>
<line x1="243.5" y1="236" x2="108.5" y2="290.4" stroke="#c9c9c9" stroke-width="0.9"/>
<line x1="343.6" y1="236" x2="408.5" y2="290.4" stroke="#c9c9c9" stroke-width="0.9"/>
<line x1="108.5" y1="290.4" x2="108.5" y2="487.5" stroke="#5e5e5e" stroke-width="1"/>
<line x1="408.5" y1="290.4" x2="408.5" y2="487.5" stroke="#5e5e5e" stroke-width="1"/>
<line x1="108.5" y1="487.5" x2="408.5" y2="487.5" stroke="#9a9a9a" stroke-width="1.1"/>
<line x1="107.0" y1="487.5" x2="110.0" y2="487.5" stroke="#7d7d7d" stroke-width="1"/>
<line x1="407.0" y1="487.5" x2="410.0" y2="487.5" stroke="#7d7d7d" stroke-width="1"/>
<line x1="107.0" y1="448.1" x2="110.0" y2="448.1" stroke="#7d7d7d" stroke-width="1"/>
<line x1="407.0" y1="448.1" x2="410.0" y2="448.1" stroke="#7d7d7d" stroke-width="1"/>
<line x1="107.0" y1="408.7" x2="110.0" y2="408.7" stroke="#7d7d7d" stroke-width="1"/>
<line x1="407.0" y1="408.7" x2="410.0" y2="408.7" stroke="#7d7d7d" stroke-width="1"/>
<line x1="107.0" y1="369.2" x2="110.0" y2="369.2" stroke="#7d7d7d" stroke-width="1"/>
<line x1="407.0" y1="369.2" x2="410.0" y2="369.2" stroke="#7d7d7d" stroke-width="1"/>
<line x1="107.0" y1="329.8" x2="110.0" y2="329.8" stroke="#7d7d7d" stroke-width="1"/>
<line x1="407.0" y1="329.8" x2="410.0" y2="329.8" stroke="#7d7d7d" stroke-width="1"/>
<line x1="107.0" y1="290.4" x2="110.0" y2="290.4" stroke="#7d7d7d" stroke-width="1"/>
<line x1="407.0" y1="290.4" x2="410.0" y2="290.4" stroke="#7d7d7d" stroke-width="1"/>
<line x1="108.5" y1="486.0" x2="108.5" y2="489.3" stroke="#8a8a8a" stroke-width="1"/>
<line x1="158.5" y1="486.0" x2="158.5" y2="489.3" stroke="#8a8a8a" stroke-width="1"/>
<line x1="208.5" y1="486.0" x2="208.5" y2="489.3" stroke="#8a8a8a" stroke-width="1"/>
<line x1="258.5" y1="486.0" x2="258.5" y2="489.3" stroke="#8a8a8a" stroke-width="1"/>
<line x1="308.5" y1="486.0" x2="308.5" y2="489.3" stroke="#8a8a8a" stroke-width="1"/>
<line x1="358.5" y1="486.0" x2="358.5" y2="489.3" stroke="#8a8a8a" stroke-width="1"/>
<line x1="408.5" y1="486.0" x2="408.5" y2="489.3" stroke="#8a8a8a" stroke-width="1"/>
<line x1="247.2" y1="290.4" x2="247.2" y2="487.5" stroke="#8f8f8f" stroke-width="1" stroke-dasharray="1.2 1.8"/>
<polyline points="108.8,473.1 133.8,466.5 158.6,468.7 183.4,440.1 208.5,413.4 233.3,411.5 258.7,414.2 283.8,404.8 308.5,439.2 333.4,485.0 358.5,474.8 383.4,471.0 408.4,451.6" fill="none" stroke="#f1cccb" stroke-width="0.7"/>
<circle cx="109.0" cy="483.5" r="1.45" fill="#d6e8f5" stroke="#2b7fc3" stroke-width="1.05"/>
<circle cx="110.5" cy="484.6" r="1.45" fill="#d6e8f5" stroke="#2b7fc3" stroke-width="1.05"/>
<circle cx="112.9" cy="484.2" r="1.45" fill="#d6e8f5" stroke="#2b7fc3" stroke-width="1.05"/>
<circle cx="114.2" cy="485.5" r="1.45" fill="#d6e8f5" stroke="#2b7fc3" stroke-width="1.05"/>
<circle cx="115.5" cy="487.5" r="1.45" fill="#d6e8f5" stroke="#2b7fc3" stroke-width="1.05"/>
<circle cx="117.1" cy="487.5" r="1.45" fill="#d6e8f5" stroke="#2b7fc3" stroke-width="1.05"/>
<circle cx="118.7" cy="485.5" r="1.45" fill="#d6e8f5" stroke="#2b7fc3" stroke-width="1.05"/>
<circle cx="120.4" cy="478.0" r="1.45" fill="#d6e8f5" stroke="#2b7fc3" stroke-width="1.05"/>
<circle cx="122.3" cy="472.1" r="1.45" fill="#d6e8f5" stroke="#2b7fc3" stroke-width="1.05"/>
<circle cx="123.9" cy="471.4" r="1.45" fill="#d6e8f5" stroke="#2b7fc3" stroke-width="1.05"/>
<circle cx="125.4" cy="472.4" r="1.45" fill="#d6e8f5" stroke="#2b7fc3" stroke-width="1.05"/>
<circle cx="127.3" cy="477.3" r="1.45" fill="#d6e8f5" stroke="#2b7fc3" stroke-width="1.05"/>
<circle cx="129.3" cy="483.8" r="1.45" fill="#d6e8f5" stroke="#2b7fc3" stroke-width="1.05"/>
<circle cx="130.6" cy="483.5" r="1.45" fill="#d6e8f5" stroke="#2b7fc3" stroke-width="1.05"/>
<circle cx="131.9" cy="479.0" r="1.45" fill="#d6e8f5" stroke="#2b7fc3" stroke-width="1.05"/>
<circle cx="133.9" cy="460.6" r="1.45" fill="#d6e8f5" stroke="#2b7fc3" stroke-width="1.05"/>
<circle cx="135.4" cy="449.9" r="1.45" fill="#d6e8f5" stroke="#2b7fc3" stroke-width="1.05"/>
<circle cx="137.4" cy="457.1" r="1.45" fill="#d6e8f5" stroke="#2b7fc3" stroke-width="1.05"/>
<circle cx="139.1" cy="473.5" r="1.45" fill="#d6e8f5" stroke="#2b7fc3" stroke-width="1.05"/>
<circle cx="140.7" cy="479.2" r="1.45" fill="#d6e8f5" stroke="#2b7fc3" stroke-width="1.05"/>
<circle cx="142.3" cy="476.1" r="1.45" fill="#d6e8f5" stroke="#2b7fc3" stroke-width="1.05"/>
<circle cx="144.0" cy="476.1" r="1.45" fill="#d6e8f5" stroke="#2b7fc3" stroke-width="1.05"/>
<circle cx="145.7" cy="480.5" r="1.45" fill="#d6e8f5" stroke="#2b7fc3" stroke-width="1.05"/>
<circle cx="147.2" cy="480.5" r="1.45" fill="#d6e8f5" stroke="#2b7fc3" stroke-width="1.05"/>
<circle cx="149.2" cy="475.7" r="1.45" fill="#d6e8f5" stroke="#2b7fc3" stroke-width="1.05"/>
<circle cx="150.9" cy="465.2" r="1.45" fill="#d6e8f5" stroke="#2b7fc3" stroke-width="1.05"/>
<circle cx="152.5" cy="459.3" r="1.45" fill="#d6e8f5" stroke="#2b7fc3" stroke-width="1.05"/>
<circle cx="154.2" cy="464.8" r="1.45" fill="#d6e8f5" stroke="#2b7fc3" stroke-width="1.05"/>
<circle cx="155.7" cy="470.2" r="1.45" fill="#d6e8f5" stroke="#2b7fc3" stroke-width="1.05"/>
<circle cx="160.3" cy="461.7" r="1.45" fill="#d6e8f5" stroke="#2b7fc3" stroke-width="1.05"/>
<circle cx="161.6" cy="461.7" r="1.45" fill="#d6e8f5" stroke="#2b7fc3" stroke-width="1.05"/>
<circle cx="163.0" cy="465.2" r="1.45" fill="#d6e8f5" stroke="#2b7fc3" stroke-width="1.05"/>
<circle cx="164.4" cy="474.4" r="1.45" fill="#d6e8f5" stroke="#2b7fc3" stroke-width="1.05"/>
<circle cx="166.0" cy="478.6" r="1.45" fill="#d6e8f5" stroke="#2b7fc3" stroke-width="1.05"/>
<circle cx="167.7" cy="480.2" r="1.45" fill="#d6e8f5" stroke="#2b7fc3" stroke-width="1.05"/>
<circle cx="169.4" cy="480.6" r="1.45" fill="#d6e8f5" stroke="#2b7fc3" stroke-width="1.05"/>
<circle cx="171.0" cy="475.5" r="1.45" fill="#d6e8f5" stroke="#2b7fc3" stroke-width="1.05"/>
<circle cx="172.7" cy="470.5" r="1.45" fill="#d6e8f5" stroke="#2b7fc3" stroke-width="1.05"/>
<circle cx="174.4" cy="472.2" r="1.45" fill="#d6e8f5" stroke="#2b7fc3" stroke-width="1.05"/>
<circle cx="176.0" cy="481.4" r="1.45" fill="#d6e8f5" stroke="#2b7fc3" stroke-width="1.05"/>
<circle cx="178.0" cy="486.4" r="1.45" fill="#d6e8f5" stroke="#2b7fc3" stroke-width="1.05"/>
<circle cx="179.4" cy="482.2" r="1.45" fill="#d6e8f5" stroke="#2b7fc3" stroke-width="1.05"/>
<circle cx="181.4" cy="475.5" r="1.45" fill="#d6e8f5" stroke="#2b7fc3" stroke-width="1.05"/>
<circle cx="182.7" cy="473.5" r="1.45" fill="#d6e8f5" stroke="#2b7fc3" stroke-width="1.05"/>
<circle cx="184.4" cy="473.0" r="1.45" fill="#d6e8f5" stroke="#2b7fc3" stroke-width="1.05"/>
<circle cx="186.4" cy="468.0" r="1.45" fill="#d6e8f5" stroke="#2b7fc3" stroke-width="1.05"/>
<circle cx="188.1" cy="460.2" r="1.45" fill="#d6e8f5" stroke="#2b7fc3" stroke-width="1.05"/>
<circle cx="189.4" cy="451.3" r="1.45" fill="#d6e8f5" stroke="#2b7fc3" stroke-width="1.05"/>
<circle cx="191.1" cy="448.8" r="1.45" fill="#d6e8f5" stroke="#2b7fc3" stroke-width="1.05"/>
<circle cx="192.8" cy="448.8" r="1.45" fill="#d6e8f5" stroke="#2b7fc3" stroke-width="1.05"/>
<circle cx="194.4" cy="451.3" r="1.45" fill="#d6e8f5" stroke="#2b7fc3" stroke-width="1.05"/>
<circle cx="196.1" cy="451.8" r="1.45" fill="#d6e8f5" stroke="#2b7fc3" stroke-width="1.05"/>
<circle cx="197.8" cy="453.0" r="1.45" fill="#d6e8f5" stroke="#2b7fc3" stroke-width="1.05"/>
<circle cx="199.8" cy="454.3" r="1.45" fill="#d6e8f5" stroke="#2b7fc3" stroke-width="1.05"/>
<circle cx="201.5" cy="447.3" r="1.45" fill="#d6e8f5" stroke="#2b7fc3" stroke-width="1.05"/>
<circle cx="203.1" cy="443.0" r="1.45" fill="#d6e8f5" stroke="#2b7fc3" stroke-width="1.05"/>
<circle cx="204.8" cy="453.2" r="1.45" fill="#d6e8f5" stroke="#2b7fc3" stroke-width="1.05"/>
<circle cx="206.5" cy="463.0" r="1.45" fill="#d6e8f5" stroke="#2b7fc3" stroke-width="1.05"/>
<circle cx="208.1" cy="464.3" r="1.45" fill="#d6e8f5" stroke="#2b7fc3" stroke-width="1.05"/>
<circle cx="209.8" cy="455.2" r="1.45" fill="#d6e8f5" stroke="#2b7fc3" stroke-width="1.05"/>
<circle cx="211.5" cy="451.3" r="1.45" fill="#d6e8f5" stroke="#2b7fc3" stroke-width="1.05"/>
<circle cx="213.2" cy="449.6" r="1.45" fill="#d6e8f5" stroke="#2b7fc3" stroke-width="1.05"/>
<circle cx="214.8" cy="444.6" r="1.45" fill="#d6e8f5" stroke="#2b7fc3" stroke-width="1.05"/>
<circle cx="216.5" cy="436.8" r="1.45" fill="#d6e8f5" stroke="#2b7fc3" stroke-width="1.05"/>
<circle cx="217.8" cy="441.0" r="1.45" fill="#d6e8f5" stroke="#2b7fc3" stroke-width="1.05"/>
<circle cx="214.0" cy="450.0" r="1.45" fill="#d6e8f5" stroke="#2b7fc3" stroke-width="1.05"/>
<circle cx="216.4" cy="437.0" r="1.45" fill="#d6e8f5" stroke="#2b7fc3" stroke-width="1.05"/>
<circle cx="218.5" cy="441.0" r="1.45" fill="#d6e8f5" stroke="#2b7fc3" stroke-width="1.05"/>
<circle cx="220.1" cy="446.7" r="1.45" fill="#d6e8f5" stroke="#2b7fc3" stroke-width="1.05"/>
<circle cx="221.7" cy="448.7" r="1.45" fill="#d6e8f5" stroke="#2b7fc3" stroke-width="1.05"/>
<circle cx="223.2" cy="438.4" r="1.45" fill="#d6e8f5" stroke="#2b7fc3" stroke-width="1.05"/>
<circle cx="225.2" cy="421.7" r="1.45" fill="#d6e8f5" stroke="#2b7fc3" stroke-width="1.05"/>
<circle cx="226.6" cy="408.5" r="1.45" fill="#d6e8f5" stroke="#2b7fc3" stroke-width="1.05"/>
<circle cx="228.2" cy="402.8" r="1.45" fill="#d6e8f5" stroke="#2b7fc3" stroke-width="1.05"/>
<circle cx="229.9" cy="406.4" r="1.45" fill="#d6e8f5" stroke="#2b7fc3" stroke-width="1.05"/>
<circle cx="231.3" cy="408.5" r="1.45" fill="#d6e8f5" stroke="#2b7fc3" stroke-width="1.05"/>
<circle cx="235.4" cy="400.3" r="1.45" fill="#d6e8f5" stroke="#2b7fc3" stroke-width="1.05"/>
<circle cx="236.8" cy="391.8" r="1.45" fill="#d6e8f5" stroke="#2b7fc3" stroke-width="1.05"/>
<circle cx="236.8" cy="392.0" r="1.45" fill="#d6e8f5" stroke="#2b7fc3" stroke-width="1.05"/>
<circle cx="238.2" cy="371.1" r="1.45" fill="#d6e8f5" stroke="#2b7fc3" stroke-width="1.05"/>
<circle cx="240.1" cy="353.3" r="1.45" fill="#d6e8f5" stroke="#2b7fc3" stroke-width="1.05"/>
<circle cx="241.8" cy="333.7" r="1.45" fill="#d6e8f5" stroke="#2b7fc3" stroke-width="1.05"/>
<circle cx="243.3" cy="322.0" r="1.45" fill="#d6e8f5" stroke="#2b7fc3" stroke-width="1.05"/>
<circle cx="245.3" cy="305.9" r="1.45" fill="#d6e8f5" stroke="#2b7fc3" stroke-width="1.05"/>
<circle cx="248.5" cy="324.3" r="1.45" fill="#d6e8f5" stroke="#2b7fc3" stroke-width="1.05"/>
<circle cx="250.1" cy="365.4" r="1.45" fill="#d6e8f5" stroke="#2b7fc3" stroke-width="1.05"/>
<circle cx="251.6" cy="398.7" r="1.45" fill="#d6e8f5" stroke="#2b7fc3" stroke-width="1.05"/>
<circle cx="252.2" cy="398.5" r="1.45" fill="#d6e8f5" stroke="#2b7fc3" stroke-width="1.05"/>
<circle cx="253.7" cy="402.8" r="1.45" fill="#d6e8f5" stroke="#2b7fc3" stroke-width="1.05"/>
<circle cx="255.3" cy="417.6" r="1.45" fill="#d6e8f5" stroke="#2b7fc3" stroke-width="1.05"/>
<circle cx="256.7" cy="428.4" r="1.45" fill="#d6e8f5" stroke="#2b7fc3" stroke-width="1.05"/>
<circle cx="258.3" cy="431.9" r="1.45" fill="#d6e8f5" stroke="#2b7fc3" stroke-width="1.05"/>
<circle cx="260.4" cy="421.7" r="1.45" fill="#d6e8f5" stroke="#2b7fc3" stroke-width="1.05"/>
<circle cx="261.8" cy="423.1" r="1.45" fill="#d6e8f5" stroke="#2b7fc3" stroke-width="1.05"/>
<circle cx="263.8" cy="425.1" r="1.45" fill="#d6e8f5" stroke="#2b7fc3" stroke-width="1.05"/>
<circle cx="265.3" cy="438.0" r="1.45" fill="#d6e8f5" stroke="#2b7fc3" stroke-width="1.05"/>
<circle cx="266.9" cy="442.6" r="1.45" fill="#d6e8f5" stroke="#2b7fc3" stroke-width="1.05"/>
<circle cx="268.5" cy="456.3" r="1.45" fill="#d6e8f5" stroke="#2b7fc3" stroke-width="1.05"/>
<circle cx="270.5" cy="460.3" r="1.45" fill="#d6e8f5" stroke="#2b7fc3" stroke-width="1.05"/>
<circle cx="272.0" cy="469.5" r="1.45" fill="#d6e8f5" stroke="#2b7fc3" stroke-width="1.05"/>
<circle cx="273.4" cy="471.5" r="1.45" fill="#d6e8f5" stroke="#2b7fc3" stroke-width="1.05"/>
<circle cx="268.9" cy="456.4" r="1.45" fill="#d6e8f5" stroke="#2b7fc3" stroke-width="1.05"/>
<circle cx="270.4" cy="460.1" r="1.45" fill="#d6e8f5" stroke="#2b7fc3" stroke-width="1.05"/>
<circle cx="272.1" cy="470.2" r="1.45" fill="#d6e8f5" stroke="#2b7fc3" stroke-width="1.05"/>
<circle cx="273.9" cy="472.0" r="1.45" fill="#d6e8f5" stroke="#2b7fc3" stroke-width="1.05"/>
<circle cx="275.4" cy="476.3" r="1.45" fill="#d6e8f5" stroke="#2b7fc3" stroke-width="1.05"/>
<circle cx="277.3" cy="478.7" r="1.45" fill="#d6e8f5" stroke="#2b7fc3" stroke-width="1.05"/>
<circle cx="278.8" cy="476.3" r="1.45" fill="#d6e8f5" stroke="#2b7fc3" stroke-width="1.05"/>
<circle cx="280.6" cy="467.0" r="1.45" fill="#d6e8f5" stroke="#2b7fc3" stroke-width="1.05"/>
<circle cx="282.3" cy="459.0" r="1.45" fill="#d6e8f5" stroke="#2b7fc3" stroke-width="1.05"/>
<circle cx="283.8" cy="462.0" r="1.45" fill="#d6e8f5" stroke="#2b7fc3" stroke-width="1.05"/>
<circle cx="285.6" cy="470.2" r="1.45" fill="#d6e8f5" stroke="#2b7fc3" stroke-width="1.05"/>
<circle cx="287.1" cy="468.9" r="1.45" fill="#d6e8f5" stroke="#2b7fc3" stroke-width="1.05"/>
<circle cx="288.8" cy="467.6" r="1.45" fill="#d6e8f5" stroke="#2b7fc3" stroke-width="1.05"/>
<circle cx="290.6" cy="465.7" r="1.45" fill="#d6e8f5" stroke="#2b7fc3" stroke-width="1.05"/>
<circle cx="292.5" cy="470.2" r="1.45" fill="#d6e8f5" stroke="#2b7fc3" stroke-width="1.05"/>
<circle cx="294.4" cy="471.6" r="1.45" fill="#d6e8f5" stroke="#2b7fc3" stroke-width="1.05"/>
<circle cx="295.8" cy="472.6" r="1.45" fill="#d6e8f5" stroke="#2b7fc3" stroke-width="1.05"/>
<circle cx="297.7" cy="473.9" r="1.45" fill="#d6e8f5" stroke="#2b7fc3" stroke-width="1.05"/>
<circle cx="299.2" cy="478.1" r="1.45" fill="#d6e8f5" stroke="#2b7fc3" stroke-width="1.05"/>
<circle cx="301.0" cy="481.9" r="1.45" fill="#d6e8f5" stroke="#2b7fc3" stroke-width="1.05"/>
<circle cx="302.3" cy="481.9" r="1.45" fill="#d6e8f5" stroke="#2b7fc3" stroke-width="1.05"/>
<circle cx="304.2" cy="475.0" r="1.45" fill="#d6e8f5" stroke="#2b7fc3" stroke-width="1.05"/>
<circle cx="306.0" cy="477.8" r="1.45" fill="#d6e8f5" stroke="#2b7fc3" stroke-width="1.05"/>
<circle cx="307.3" cy="482.4" r="1.45" fill="#d6e8f5" stroke="#2b7fc3" stroke-width="1.05"/>
<circle cx="308.5" cy="484.6" r="1.45" fill="#d6e8f5" stroke="#2b7fc3" stroke-width="1.05"/>
<circle cx="310.7" cy="480.9" r="1.45" fill="#d6e8f5" stroke="#2b7fc3" stroke-width="1.05"/>
<circle cx="312.5" cy="473.9" r="1.45" fill="#d6e8f5" stroke="#2b7fc3" stroke-width="1.05"/>
<circle cx="314.4" cy="473.5" r="1.45" fill="#d6e8f5" stroke="#2b7fc3" stroke-width="1.05"/>
<circle cx="315.9" cy="478.1" r="1.45" fill="#d6e8f5" stroke="#2b7fc3" stroke-width="1.05"/>
<circle cx="317.7" cy="483.7" r="1.45" fill="#d6e8f5" stroke="#2b7fc3" stroke-width="1.05"/>
<circle cx="319.6" cy="483.7" r="1.45" fill="#d6e8f5" stroke="#2b7fc3" stroke-width="1.05"/>
<circle cx="320.9" cy="477.6" r="1.45" fill="#d6e8f5" stroke="#2b7fc3" stroke-width="1.05"/>
<circle cx="322.4" cy="470.7" r="1.45" fill="#d6e8f5" stroke="#2b7fc3" stroke-width="1.05"/>
<circle cx="324.2" cy="470.2" r="1.45" fill="#d6e8f5" stroke="#2b7fc3" stroke-width="1.05"/>
<circle cx="326.1" cy="476.3" r="1.45" fill="#d6e8f5" stroke="#2b7fc3" stroke-width="1.05"/>
<circle cx="327.8" cy="479.1" r="1.45" fill="#d6e8f5" stroke="#2b7fc3" stroke-width="1.05"/>
<circle cx="329.8" cy="484.6" r="1.45" fill="#d6e8f5" stroke="#2b7fc3" stroke-width="1.05"/>
<circle cx="331.6" cy="485.6" r="1.45" fill="#d6e8f5" stroke="#2b7fc3" stroke-width="1.05"/>
<circle cx="333.9" cy="485.0" r="1.45" fill="#d6e8f5" stroke="#2b7fc3" stroke-width="1.05"/>
<circle cx="336.3" cy="483.7" r="1.45" fill="#d6e8f5" stroke="#2b7fc3" stroke-width="1.05"/>
<circle cx="338.1" cy="480.9" r="1.45" fill="#d6e8f5" stroke="#2b7fc3" stroke-width="1.05"/>
<circle cx="339.4" cy="476.3" r="1.45" fill="#d6e8f5" stroke="#2b7fc3" stroke-width="1.05"/>
<circle cx="341.3" cy="469.9" r="1.45" fill="#d6e8f5" stroke="#2b7fc3" stroke-width="1.05"/>
<circle cx="342.9" cy="465.8" r="1.45" fill="#d6e8f5" stroke="#2b7fc3" stroke-width="1.05"/>
<circle cx="344.6" cy="465.8" r="1.45" fill="#d6e8f5" stroke="#2b7fc3" stroke-width="1.05"/>
<circle cx="346.4" cy="472.0" r="1.45" fill="#d6e8f5" stroke="#2b7fc3" stroke-width="1.05"/>
<circle cx="347.8" cy="475.5" r="1.45" fill="#d6e8f5" stroke="#2b7fc3" stroke-width="1.05"/>
<circle cx="349.6" cy="475.2" r="1.45" fill="#d6e8f5" stroke="#2b7fc3" stroke-width="1.05"/>
<circle cx="351.3" cy="475.5" r="1.45" fill="#d6e8f5" stroke="#2b7fc3" stroke-width="1.05"/>
<circle cx="352.9" cy="482.7" r="1.45" fill="#d6e8f5" stroke="#2b7fc3" stroke-width="1.05"/>
<circle cx="354.7" cy="486.3" r="1.45" fill="#d6e8f5" stroke="#2b7fc3" stroke-width="1.05"/>
<circle cx="356.5" cy="486.3" r="1.45" fill="#d6e8f5" stroke="#2b7fc3" stroke-width="1.05"/>
<circle cx="358.2" cy="482.4" r="1.45" fill="#d6e8f5" stroke="#2b7fc3" stroke-width="1.05"/>
<circle cx="359.9" cy="483.5" r="1.45" fill="#d6e8f5" stroke="#2b7fc3" stroke-width="1.05"/>
<circle cx="361.7" cy="484.1" r="1.45" fill="#d6e8f5" stroke="#2b7fc3" stroke-width="1.05"/>
<circle cx="363.0" cy="477.6" r="1.45" fill="#d6e8f5" stroke="#2b7fc3" stroke-width="1.05"/>
<circle cx="364.8" cy="472.0" r="1.45" fill="#d6e8f5" stroke="#2b7fc3" stroke-width="1.05"/>
<circle cx="366.5" cy="476.9" r="1.45" fill="#d6e8f5" stroke="#2b7fc3" stroke-width="1.05"/>
<circle cx="368.2" cy="482.4" r="1.45" fill="#d6e8f5" stroke="#2b7fc3" stroke-width="1.05"/>
<circle cx="370.0" cy="479.9" r="1.45" fill="#d6e8f5" stroke="#2b7fc3" stroke-width="1.05"/>
<circle cx="371.8" cy="478.3" r="1.45" fill="#d6e8f5" stroke="#2b7fc3" stroke-width="1.05"/>
<circle cx="373.4" cy="483.5" r="1.45" fill="#d6e8f5" stroke="#2b7fc3" stroke-width="1.05"/>
<circle cx="375.1" cy="487.7" r="1.45" fill="#d6e8f5" stroke="#2b7fc3" stroke-width="1.05"/>
<circle cx="376.5" cy="485.9" r="1.45" fill="#d6e8f5" stroke="#2b7fc3" stroke-width="1.05"/>
<circle cx="377.9" cy="483.8" r="1.45" fill="#d6e8f5" stroke="#2b7fc3" stroke-width="1.05"/>
<circle cx="379.7" cy="482.7" r="1.45" fill="#d6e8f5" stroke="#2b7fc3" stroke-width="1.05"/>
<circle cx="381.5" cy="482.4" r="1.45" fill="#d6e8f5" stroke="#2b7fc3" stroke-width="1.05"/>
<circle cx="383.2" cy="482.4" r="1.45" fill="#d6e8f5" stroke="#2b7fc3" stroke-width="1.05"/>
<circle cx="384.8" cy="482.1" r="1.45" fill="#d6e8f5" stroke="#2b7fc3" stroke-width="1.05"/>
<circle cx="386.6" cy="482.0" r="1.45" fill="#d6e8f5" stroke="#2b7fc3" stroke-width="1.05"/>
<circle cx="388.4" cy="481.7" r="1.45" fill="#d6e8f5" stroke="#2b7fc3" stroke-width="1.05"/>
<circle cx="390.1" cy="479.9" r="1.45" fill="#d6e8f5" stroke="#2b7fc3" stroke-width="1.05"/>
<circle cx="391.5" cy="475.8" r="1.45" fill="#d6e8f5" stroke="#2b7fc3" stroke-width="1.05"/>
<circle cx="393.1" cy="474.4" r="1.45" fill="#d6e8f5" stroke="#2b7fc3" stroke-width="1.05"/>
<circle cx="394.9" cy="477.6" r="1.45" fill="#d6e8f5" stroke="#2b7fc3" stroke-width="1.05"/>
<circle cx="396.7" cy="487.3" r="1.45" fill="#d6e8f5" stroke="#2b7fc3" stroke-width="1.05"/>
<circle cx="398.4" cy="487.3" r="1.45" fill="#d6e8f5" stroke="#2b7fc3" stroke-width="1.05"/>
<circle cx="400.1" cy="487.3" r="1.45" fill="#d6e8f5" stroke="#2b7fc3" stroke-width="1.05"/>
<circle cx="401.9" cy="487.3" r="1.45" fill="#d6e8f5" stroke="#2b7fc3" stroke-width="1.05"/>
<circle cx="403.7" cy="486.3" r="1.45" fill="#d6e8f5" stroke="#2b7fc3" stroke-width="1.05"/>
<circle cx="405.3" cy="484.9" r="1.45" fill="#d6e8f5" stroke="#2b7fc3" stroke-width="1.05"/>
<circle cx="407.0" cy="481.0" r="1.45" fill="#d6e8f5" stroke="#2b7fc3" stroke-width="1.05"/>
<circle cx="408.4" cy="476.6" r="1.45" fill="#d6e8f5" stroke="#2b7fc3" stroke-width="1.05"/>
<circle cx="247.0" cy="295.9" r="1.6" fill="#2b7fc3" stroke="#2b7fc3" stroke-width="1"/>
<path d="M108.8,290.5V306.6M107.5,290.5h2.6M107.5,306.6h2.6" stroke="#555" stroke-width="0.8" fill="none"/>
<path d="M106.8,296.6l4,4M106.8,300.6l4,-4" stroke="#333" stroke-width="0.9" fill="none"/>
<path d="M133.8,296.6V304.4M132.5,296.6h2.6M132.5,304.4h2.6" stroke="#555" stroke-width="0.8" fill="none"/>
<path d="M131.8,298.4l4,4M131.8,302.4l4,-4" stroke="#333" stroke-width="0.9" fill="none"/>
<path d="M158.8,292.4V296.4M157.5,292.4h2.6M157.5,296.4h2.6" stroke="#555" stroke-width="0.8" fill="none"/>
<path d="M156.8,292.4l4,4M156.8,296.4l4,-4" stroke="#333" stroke-width="0.9" fill="none"/>
<path d="M183.8,296.4V308.0M182.5,296.4h2.6M182.5,308.0h2.6" stroke="#555" stroke-width="0.8" fill="none"/>
<path d="M181.8,300.0l4,4M181.8,304.0l4,-4" stroke="#333" stroke-width="0.9" fill="none"/>
<path d="M208.6,398.6V407.6M207.3,398.6h2.6M207.3,407.6h2.6" stroke="#555" stroke-width="0.8" fill="none"/>
<path d="M206.6,401.5l4,4M206.6,405.5l4,-4" stroke="#333" stroke-width="0.9" fill="none"/>
<path d="M233.6,442.6V450.2M232.3,442.6h2.6M232.3,450.2h2.6" stroke="#555" stroke-width="0.8" fill="none"/>
<path d="M231.6,444.7l4,4M231.6,448.7l4,-4" stroke="#333" stroke-width="0.9" fill="none"/>
<path d="M258.7,463.8V475.6M257.4,463.8h2.6M257.4,475.6h2.6" stroke="#555" stroke-width="0.8" fill="none"/>
<path d="M256.7,467.1l4,4M256.7,471.1l4,-4" stroke="#333" stroke-width="0.9" fill="none"/>
<path d="M283.8,411.3V426.2M282.5,411.3h2.6M282.5,426.2h2.6" stroke="#555" stroke-width="0.8" fill="none"/>
<path d="M281.8,415.5l4,4M281.8,419.5l4,-4" stroke="#333" stroke-width="0.9" fill="none"/>
<path d="M309.0,334.1V341.2M307.7,334.1h2.6M307.7,341.2h2.6" stroke="#555" stroke-width="0.8" fill="none"/>
<path d="M307.0,335.4l4,4M307.0,339.4l4,-4" stroke="#333" stroke-width="0.9" fill="none"/>
<path d="M333.9,292.3V312.0M332.6,292.3h2.6M332.6,312.0h2.6" stroke="#555" stroke-width="0.8" fill="none"/>
<path d="M331.9,300.1l4,4M331.9,304.1l4,-4" stroke="#333" stroke-width="0.9" fill="none"/>
<path d="M358.8,292.3V315.6M357.5,292.3h2.6M357.5,315.6h2.6" stroke="#555" stroke-width="0.8" fill="none"/>
<path d="M356.8,302.2l4,4M356.8,306.2l4,-4" stroke="#333" stroke-width="0.9" fill="none"/>
<path d="M384.4,298.5V306.1M383.1,298.5h2.6M383.1,306.1h2.6" stroke="#555" stroke-width="0.8" fill="none"/>
<path d="M382.4,300.5l4,4M382.4,304.5l4,-4" stroke="#333" stroke-width="0.9" fill="none"/>
<path d="M409.1,291.9V296.6M407.8,291.9h2.6M407.8,296.6h2.6" stroke="#555" stroke-width="0.8" fill="none"/>
<path d="M407.1,292.2l4,4M407.1,296.2l4,-4" stroke="#333" stroke-width="0.9" fill="none"/>
<path d="M108.8,469.5V477.3M107.2,469.5h3.2M107.2,477.3h3.2" stroke="#2a2a2a" stroke-width="1.1" fill="none"/>
<circle cx="108.8" cy="473.1" r="1.85" fill="#f7eeee" stroke="#c42b26" stroke-width="1.4"/>
<path d="M133.8,449.9V483.5M132.2,449.9h3.2M132.2,483.5h3.2" stroke="#2a2a2a" stroke-width="1.1" fill="none"/>
<circle cx="133.8" cy="466.5" r="1.85" fill="#f7eeee" stroke="#c42b26" stroke-width="1.4"/>
<path d="M158.6,458.0V479.2M157.0,458.0h3.2M157.0,479.2h3.2" stroke="#2a2a2a" stroke-width="1.1" fill="none"/>
<circle cx="158.6" cy="468.7" r="1.85" fill="#f7eeee" stroke="#c42b26" stroke-width="1.4"/>
<path d="M183.4,420.9V459.0M181.8,420.9h3.2M181.8,459.0h3.2" stroke="#2a2a2a" stroke-width="1.1" fill="none"/>
<circle cx="183.4" cy="440.1" r="1.85" fill="#f7eeee" stroke="#c42b26" stroke-width="1.4"/>
<path d="M208.5,397.8V427.6M206.9,397.8h3.2M206.9,427.6h3.2" stroke="#2a2a2a" stroke-width="1.1" fill="none"/>
<circle cx="208.5" cy="413.4" r="1.85" fill="#f7eeee" stroke="#c42b26" stroke-width="1.4"/>
<path d="M233.3,393.2V429.4M231.7,393.2h3.2M231.7,429.4h3.2" stroke="#2a2a2a" stroke-width="1.1" fill="none"/>
<circle cx="233.3" cy="411.5" r="1.85" fill="#f7eeee" stroke="#c42b26" stroke-width="1.4"/>
<path d="M258.7,410.0V418.2M257.1,410.0h3.2M257.1,418.2h3.2" stroke="#2a2a2a" stroke-width="1.1" fill="none"/>
<circle cx="258.7" cy="414.2" r="1.85" fill="#f7eeee" stroke="#c42b26" stroke-width="1.4"/>
<path d="M283.8,394.1V415.4M282.2,394.1h3.2M282.2,415.4h3.2" stroke="#2a2a2a" stroke-width="1.1" fill="none"/>
<circle cx="283.8" cy="404.8" r="1.85" fill="#f7eeee" stroke="#c42b26" stroke-width="1.4"/>
<path d="M308.5,433.0V444.7M306.9,433.0h3.2M306.9,444.7h3.2" stroke="#2a2a2a" stroke-width="1.1" fill="none"/>
<circle cx="308.5" cy="439.2" r="1.85" fill="#f7eeee" stroke="#c42b26" stroke-width="1.4"/>
<path d="M333.4,484.0V486.0M331.8,484.0h3.2M331.8,486.0h3.2" stroke="#2a2a2a" stroke-width="1.1" fill="none"/>
<circle cx="333.4" cy="485.0" r="1.85" fill="#f7eeee" stroke="#c42b26" stroke-width="1.4"/>
<path d="M358.5,470.6V478.3M356.9,470.6h3.2M356.9,478.3h3.2" stroke="#2a2a2a" stroke-width="1.1" fill="none"/>
<circle cx="358.5" cy="474.8" r="1.85" fill="#f7eeee" stroke="#c42b26" stroke-width="1.4"/>
<path d="M383.4,468.8V473.4M381.8,468.8h3.2M381.8,473.4h3.2" stroke="#2a2a2a" stroke-width="1.1" fill="none"/>
<circle cx="383.4" cy="471.0" r="1.85" fill="#f7eeee" stroke="#c42b26" stroke-width="1.4"/>
<path d="M408.4,441.9V461.3M406.8,441.9h3.2M406.8,461.3h3.2" stroke="#2a2a2a" stroke-width="1.1" fill="none"/>
<circle cx="408.4" cy="451.6" r="1.85" fill="#f7eeee" stroke="#c42b26" stroke-width="1.4"/>
<text x="98.3" y="491.9" font-size="10.2" fill="#1f77bf" font-weight="bold" text-anchor="end" >0</text>
<text x="430.6" y="491.9" font-size="10.4" fill="#c0231e" font-weight="bold" text-anchor="middle" >0</text>
<text x="475.7" y="491.9" font-size="10.4" fill="#5a5a5a" font-weight="normal" text-anchor="middle" >0</text>
<text x="98.3" y="452.5" font-size="10.2" fill="#1f77bf" font-weight="bold" text-anchor="end" >20</text>
<text x="430.6" y="452.5" font-size="10.4" fill="#c0231e" font-weight="bold" text-anchor="middle" >10</text>
<text x="475.7" y="452.5" font-size="10.4" fill="#5a5a5a" font-weight="normal" text-anchor="middle" >100</text>
<text x="98.3" y="413.1" font-size="10.2" fill="#1f77bf" font-weight="bold" text-anchor="end" >40</text>
<text x="430.6" y="413.1" font-size="10.4" fill="#c0231e" font-weight="bold" text-anchor="middle" >20</text>
<text x="475.7" y="413.1" font-size="10.4" fill="#5a5a5a" font-weight="normal" text-anchor="middle" >200</text>
<text x="98.3" y="373.6" font-size="10.2" fill="#1f77bf" font-weight="bold" text-anchor="end" >60</text>
<text x="430.6" y="373.6" font-size="10.4" fill="#c0231e" font-weight="bold" text-anchor="middle" >30</text>
<text x="475.7" y="373.6" font-size="10.4" fill="#5a5a5a" font-weight="normal" text-anchor="middle" >300</text>
<text x="98.3" y="334.2" font-size="10.2" fill="#1f77bf" font-weight="bold" text-anchor="end" >80</text>
<text x="430.6" y="334.2" font-size="10.4" fill="#c0231e" font-weight="bold" text-anchor="middle" >40</text>
<text x="475.7" y="334.2" font-size="10.4" fill="#5a5a5a" font-weight="normal" text-anchor="middle" >400</text>
<text x="98.3" y="294.8" font-size="10.2" fill="#1f77bf" font-weight="bold" text-anchor="end" >100</text>
<text x="430.6" y="294.8" font-size="10.4" fill="#c0231e" font-weight="bold" text-anchor="middle" >50</text>
<text x="475.7" y="294.8" font-size="10.4" fill="#5a5a5a" font-weight="normal" text-anchor="middle" >500</text>
<text x="108.5" y="505" font-size="10" fill="#111" font-weight="bold" text-anchor="middle" >0</text>
<text x="158.5" y="505" font-size="10" fill="#111" font-weight="bold" text-anchor="middle" >5</text>
<text x="208.5" y="505" font-size="10" fill="#111" font-weight="bold" text-anchor="middle" >10</text>
<text x="258.5" y="505" font-size="10" fill="#111" font-weight="bold" text-anchor="middle" >15</text>
<text x="308.5" y="505" font-size="10" fill="#111" font-weight="bold" text-anchor="middle" >20</text>
<text x="358.5" y="505" font-size="10" fill="#111" font-weight="bold" text-anchor="middle" >25</text>
<text x="408.5" y="505" font-size="10" fill="#111" font-weight="bold" text-anchor="middle" >30</text>
<text x="246.8" y="285.4" font-size="10.6" fill="#2b2b2b" font-weight="normal" text-anchor="middle" >Root tip center</text>
<g transform="translate(76.4,395) rotate(-90)"><circle cx="-22.4" cy="-4.2" r="2.7" fill="none" stroke="#1f77bf" stroke-width="1.8"/><text x="-16.2" y="0" font-size="12.2" font-weight="bold" fill="#1f77bf">O<tspan font-size="8.4" dy="1.6">2</tspan><tspan dy="-1.6"> [μM]</tspan></text></g>
<g transform="translate(452.6,396) rotate(-90)"><circle cx="-103" cy="-4.2" r="2.8" fill="none" stroke="#c0231e" stroke-width="1.8"/><text x="-92.6" y="0" font-size="11.75" font-weight="bold" fill="#c0231e">Fe(II) oxidation rate [μmoles hour<tspan font-size="7" dy="-3.5">-1</tspan><tspan dy="3.5">]</tspan></text></g>
<text transform="translate(501.3,396.7) rotate(-90)" x="0" y="0" font-size="11.8" font-weight="bold" fill="#555" text-anchor="middle">× Fe(II) [μM]</text>
<text x="128.6" y="360.2" font-size="32" fill="#555" font-weight="bold" text-anchor="start" >C</text>
<text x="90.2" y="529.8" font-size="22.5" fill="#666" font-weight="bold" text-anchor="start" >a</text>
<text x="410.3" y="530.4" font-size="23.2" fill="#666" font-weight="bold" text-anchor="start" >b</text>
<line x1="109" y1="523.3" x2="408.5" y2="523.3" stroke="#6e6e6e" stroke-width="1.1"/>
<path d="M108.2,520.8L111,522.8V523.8L108.2,525.9Z" fill="#666"/>
<path d="M409,520.8L406.4,522.8V523.8L409,525.9Z" fill="#666"/>
<text x="251" y="542.3" font-size="13.5" fill="#555" font-weight="normal" text-anchor="middle" >transect position (mm)</text>
</svg>
</body></html>
